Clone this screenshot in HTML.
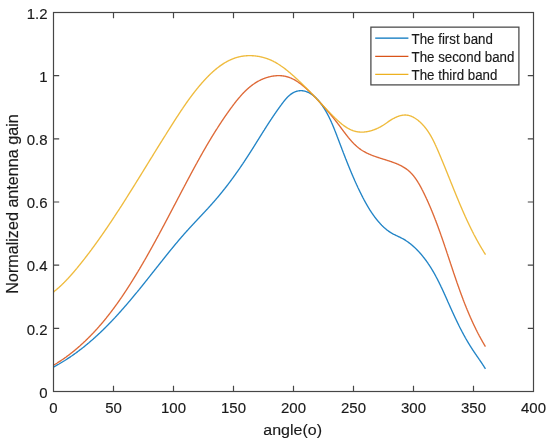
<!DOCTYPE html>
<html><head><meta charset="utf-8"><style>
html,body{margin:0;padding:0;background:#fff;overflow:hidden;}
svg{display:block;}
text{font-family:"Liberation Sans",Arial,Helvetica,sans-serif;fill:#1a1a1a;stroke:#1a1a1a;stroke-width:0.15;}
</style></head><body>
<svg width="550" height="443" viewBox="0 0 550 443">
<rect x="0" y="0" width="550" height="443" fill="#fff"/>
<g fill="none" stroke-width="1.35" stroke-opacity="0.87" stroke-linejoin="round" stroke-linecap="butt">
<path d="M53.52,367.06 L53.95,366.83 L54.38,366.60 L54.81,366.36 L55.23,366.13 L55.66,365.90 L56.08,365.66 L56.50,365.43 L56.93,365.19 L57.35,364.95 L57.77,364.71 L58.19,364.47 L58.61,364.23 L59.03,363.99 L59.44,363.74 L59.86,363.50 L60.28,363.25 L60.69,363.01 L61.10,362.76 L61.52,362.51 L61.93,362.26 L62.34,362.01 L62.75,361.76 L63.16,361.51 L63.57,361.26 L63.98,361.01 L64.39,360.75 L64.80,360.50 L65.20,360.24 L65.61,359.98 L66.01,359.72 L66.42,359.46 L66.82,359.20 L67.22,358.94 L67.62,358.68 L68.02,358.42 L68.42,358.15 L68.82,357.89 L69.22,357.62 L69.62,357.36 L70.02,357.09 L70.41,356.82 L70.81,356.55 L71.21,356.28 L71.60,356.01 L71.99,355.74 L72.39,355.47 L72.78,355.19 L73.17,354.92 L73.56,354.64 L73.95,354.37 L74.34,354.09 L74.73,353.81 L75.11,353.53 L75.50,353.25 L75.89,352.97 L76.27,352.69 L76.66,352.41 L77.04,352.13 L77.43,351.84 L77.81,351.56 L78.19,351.27 L78.57,350.99 L78.95,350.70 L79.33,350.41 L79.71,350.12 L80.09,349.83 L80.47,349.54 L80.85,349.25 L81.22,348.96 L81.60,348.67 L81.98,348.38 L82.35,348.08 L82.73,347.79 L83.10,347.49 L83.47,347.20 L83.84,346.90 L84.22,346.60 L84.59,346.30 L84.96,346.00 L85.33,345.70 L85.70,345.40 L86.06,345.10 L86.43,344.80 L86.80,344.49 L87.17,344.19 L87.53,343.89 L87.90,343.58 L88.26,343.27 L88.63,342.97 L88.99,342.66 L89.35,342.35 L89.71,342.04 L90.08,341.73 L90.44,341.42 L90.80,341.11 L91.16,340.80 L91.52,340.49 L91.88,340.18 L92.23,339.86 L92.59,339.55 L92.95,339.23 L93.31,338.92 L93.66,338.60 L94.02,338.28 L94.37,337.97 L94.73,337.65 L95.08,337.33 L95.43,337.01 L95.79,336.69 L96.14,336.37 L96.49,336.05 L96.84,335.73 L97.19,335.40 L97.54,335.08 L97.89,334.76 L98.24,334.43 L98.59,334.11 L98.93,333.78 L99.28,333.45 L99.63,333.13 L99.97,332.80 L100.32,332.47 L100.67,332.14 L101.01,331.81 L101.35,331.48 L101.70,331.15 L102.04,330.82 L102.38,330.49 L102.73,330.16 L103.07,329.82 L103.41,329.49 L103.75,329.16 L104.09,328.82 L104.43,328.49 L104.77,328.15 L105.11,327.82 L105.45,327.48 L105.78,327.14 L106.12,326.80 L106.46,326.47 L106.79,326.13 L107.13,325.79 L107.47,325.45 L107.80,325.11 L108.13,324.77 L108.47,324.42 L108.80,324.08 L109.14,323.74 L109.47,323.40 L109.80,323.05 L110.13,322.71 L110.46,322.37 L110.80,322.02 L111.13,321.68 L111.46,321.33 L111.79,320.98 L112.12,320.64 L112.44,320.29 L112.77,319.94 L113.10,319.59 L113.43,319.24 L113.76,318.90 L114.08,318.55 L114.41,318.20 L114.74,317.85 L115.06,317.49 L115.39,317.14 L115.71,316.79 L116.04,316.44 L116.36,316.09 L116.69,315.73 L117.01,315.38 L117.33,315.03 L117.65,314.67 L117.98,314.32 L118.30,313.96 L118.62,313.61 L118.94,313.25 L119.26,312.90 L119.58,312.54 L119.90,312.18 L120.22,311.82 L120.54,311.47 L120.86,311.11 L121.18,310.75 L121.50,310.39 L121.82,310.03 L122.14,309.67 L122.45,309.31 L122.77,308.95 L123.09,308.59 L123.40,308.23 L123.72,307.87 L124.04,307.51 L124.35,307.15 L124.67,306.78 L124.98,306.42 L125.30,306.06 L125.61,305.70 L125.93,305.33 L126.24,304.97 L126.55,304.60 L126.87,304.24 L127.18,303.87 L127.49,303.51 L127.80,303.14 L128.12,302.78 L128.43,302.41 L128.74,302.05 L129.05,301.68 L129.36,301.31 L129.67,300.95 L129.98,300.58 L130.29,300.21 L130.60,299.84 L130.91,299.48 L131.22,299.11 L131.53,298.74 L131.84,298.37 L132.15,298.00 L132.46,297.63 L132.77,297.26 L133.07,296.89 L133.38,296.52 L133.69,296.15 L134.00,295.78 L134.30,295.41 L134.61,295.04 L134.92,294.67 L135.22,294.30 L135.53,293.93 L135.84,293.55 L136.14,293.18 L136.45,292.81 L136.75,292.44 L137.06,292.07 L137.36,291.69 L137.67,291.32 L137.97,290.95 L138.28,290.57 L138.58,290.20 L138.89,289.83 L139.19,289.45 L139.49,289.08 L139.80,288.71 L140.10,288.33 L140.40,287.96 L140.71,287.58 L141.01,287.21 L141.31,286.83 L141.62,286.46 L141.92,286.08 L142.22,285.71 L142.52,285.33 L142.82,284.96 L143.13,284.58 L143.43,284.21 L143.73,283.83 L144.03,283.46 L144.33,283.08 L144.63,282.71 L144.94,282.33 L145.24,281.95 L145.54,281.58 L145.84,281.20 L146.14,280.82 L146.44,280.45 L146.74,280.07 L147.04,279.70 L147.34,279.32 L147.64,278.94 L147.94,278.57 L148.24,278.19 L148.54,277.81 L148.84,277.43 L149.14,277.06 L149.44,276.68 L149.74,276.30 L150.04,275.93 L150.34,275.55 L150.64,275.17 L150.94,274.80 L151.24,274.42 L151.53,274.04 L151.83,273.66 L152.13,273.29 L152.43,272.91 L152.73,272.53 L153.03,272.16 L153.33,271.78 L153.63,271.40 L153.93,271.03 L154.22,270.65 L154.52,270.27 L154.82,269.89 L155.12,269.52 L155.42,269.14 L155.72,268.76 L156.02,268.39 L156.31,268.01 L156.61,267.63 L156.91,267.26 L157.21,266.88 L157.51,266.50 L157.81,266.13 L158.10,265.75 L158.40,265.37 L158.70,265.00 L159.00,264.62 L159.30,264.25 L159.60,263.87 L159.90,263.49 L160.19,263.12 L160.49,262.74 L160.79,262.37 L161.09,261.99 L161.39,261.62 L161.69,261.24 L161.99,260.87 L162.28,260.49 L162.58,260.12 L162.88,259.74 L163.18,259.37 L163.48,258.99 L163.78,258.62 L164.08,258.24 L164.38,257.87 L164.68,257.49 L164.97,257.12 L165.27,256.75 L165.57,256.37 L165.87,256.00 L166.17,255.63 L166.47,255.25 L166.77,254.88 L167.07,254.51 L167.37,254.14 L167.67,253.76 L167.97,253.39 L168.27,253.02 L168.57,252.65 L168.87,252.28 L169.17,251.90 L169.47,251.53 L169.77,251.16 L170.07,250.79 L170.37,250.42 L170.67,250.05 L170.98,249.68 L171.28,249.31 L171.58,248.94 L171.88,248.57 L172.18,248.20 L172.48,247.83 L172.79,247.46 L173.09,247.10 L173.39,246.73 L173.69,246.36 L174.00,245.99 L174.30,245.62 L174.60,245.26 L174.91,244.89 L175.21,244.52 L175.51,244.16 L175.82,243.79 L176.12,243.43 L176.43,243.06 L176.73,242.70 L177.04,242.33 L177.35,241.97 L177.65,241.60 L177.96,241.24 L178.27,240.87 L178.57,240.51 L178.88,240.15 L179.19,239.78 L179.50,239.42 L179.81,239.06 L180.12,238.70 L180.43,238.34 L180.74,237.98 L181.05,237.62 L181.36,237.25 L181.67,236.89 L181.98,236.54 L182.30,236.18 L182.61,235.82 L182.92,235.46 L183.24,235.10 L183.55,234.74 L183.86,234.38 L184.18,234.03 L184.50,233.67 L184.81,233.31 L185.13,232.96 L185.45,232.60 L185.77,232.25 L186.08,231.89 L186.40,231.54 L186.72,231.18 L187.04,230.83 L187.36,230.48 L187.68,230.12 L188.00,229.77 L188.33,229.42 L188.65,229.06 L188.97,228.71 L189.29,228.36 L189.62,228.01 L189.94,227.66 L190.26,227.30 L190.59,226.95 L190.91,226.60 L191.23,226.25 L191.56,225.90 L191.88,225.55 L192.21,225.20 L192.53,224.85 L192.86,224.50 L193.19,224.15 L193.51,223.80 L193.84,223.45 L194.17,223.10 L194.49,222.75 L194.82,222.40 L195.15,222.05 L195.47,221.70 L195.80,221.35 L196.13,221.00 L196.46,220.65 L196.78,220.30 L197.11,219.95 L197.44,219.61 L197.77,219.26 L198.09,218.91 L198.42,218.56 L198.75,218.21 L199.08,217.86 L199.41,217.51 L199.73,217.16 L200.06,216.81 L200.39,216.46 L200.72,216.11 L201.05,215.76 L201.37,215.41 L201.70,215.06 L202.03,214.71 L202.36,214.36 L202.68,214.01 L203.01,213.66 L203.34,213.31 L203.67,212.96 L203.99,212.61 L204.32,212.26 L204.65,211.91 L204.97,211.55 L205.30,211.20 L205.62,210.85 L205.95,210.50 L206.28,210.14 L206.60,209.79 L206.93,209.44 L207.25,209.09 L207.57,208.73 L207.90,208.38 L208.22,208.02 L208.55,207.67 L208.87,207.31 L209.19,206.96 L209.51,206.60 L209.84,206.25 L210.16,205.89 L210.48,205.53 L210.80,205.18 L211.12,204.82 L211.44,204.46 L211.76,204.10 L212.08,203.75 L212.40,203.39 L212.72,203.03 L213.04,202.67 L213.35,202.31 L213.67,201.95 L213.99,201.58 L214.30,201.22 L214.62,200.86 L214.93,200.50 L215.25,200.13 L215.56,199.77 L215.88,199.41 L216.19,199.04 L216.50,198.68 L216.81,198.31 L217.12,197.94 L217.43,197.58 L217.74,197.21 L218.05,196.84 L218.36,196.47 L218.67,196.11 L218.98,195.74 L219.29,195.37 L219.59,195.00 L219.90,194.63 L220.20,194.26 L220.51,193.88 L220.81,193.51 L221.12,193.14 L221.42,192.77 L221.72,192.39 L222.03,192.02 L222.33,191.64 L222.63,191.27 L222.93,190.90 L223.23,190.52 L223.53,190.14 L223.83,189.77 L224.13,189.39 L224.43,189.01 L224.73,188.64 L225.02,188.26 L225.32,187.88 L225.62,187.50 L225.91,187.12 L226.21,186.74 L226.50,186.36 L226.80,185.98 L227.09,185.60 L227.38,185.22 L227.67,184.84 L227.97,184.46 L228.26,184.07 L228.55,183.69 L228.84,183.31 L229.13,182.92 L229.42,182.54 L229.71,182.16 L230.00,181.77 L230.29,181.39 L230.57,181.00 L230.86,180.62 L231.15,180.23 L231.43,179.84 L231.72,179.46 L232.00,179.07 L232.29,178.68 L232.57,178.30 L232.86,177.91 L233.14,177.52 L233.42,177.13 L233.71,176.74 L233.99,176.35 L234.27,175.96 L234.55,175.57 L234.83,175.18 L235.11,174.79 L235.39,174.40 L235.67,174.01 L235.95,173.62 L236.23,173.23 L236.50,172.84 L236.78,172.45 L237.06,172.05 L237.34,171.66 L237.61,171.27 L237.89,170.88 L238.16,170.48 L238.44,170.09 L238.71,169.70 L238.98,169.30 L239.26,168.91 L239.53,168.51 L239.80,168.12 L240.07,167.72 L240.35,167.33 L240.62,166.93 L240.89,166.54 L241.16,166.14 L241.43,165.75 L241.70,165.35 L241.97,164.95 L242.23,164.56 L242.50,164.16 L242.77,163.76 L243.04,163.37 L243.30,162.97 L243.57,162.57 L243.84,162.17 L244.10,161.77 L244.37,161.38 L244.63,160.98 L244.89,160.58 L245.16,160.18 L245.42,159.78 L245.68,159.38 L245.95,158.98 L246.21,158.59 L246.47,158.19 L246.73,157.79 L246.99,157.39 L247.25,156.99 L247.51,156.59 L247.77,156.19 L248.03,155.79 L248.29,155.39 L248.55,154.99 L248.81,154.58 L249.07,154.18 L249.32,153.78 L249.58,153.38 L249.84,152.98 L250.09,152.58 L250.35,152.18 L250.61,151.78 L250.86,151.38 L251.12,150.97 L251.37,150.57 L251.63,150.17 L251.88,149.77 L252.13,149.37 L252.39,148.97 L252.64,148.56 L252.89,148.16 L253.15,147.76 L253.40,147.36 L253.65,146.95 L253.91,146.55 L254.16,146.15 L254.41,145.75 L254.66,145.34 L254.91,144.94 L255.17,144.54 L255.42,144.14 L255.67,143.73 L255.92,143.33 L256.17,142.93 L256.42,142.52 L256.67,142.12 L256.93,141.72 L257.18,141.32 L257.43,140.91 L257.68,140.51 L257.93,140.11 L258.18,139.70 L258.43,139.30 L258.68,138.90 L258.94,138.49 L259.19,138.09 L259.44,137.69 L259.69,137.28 L259.94,136.88 L260.19,136.48 L260.44,136.07 L260.70,135.67 L260.95,135.27 L261.20,134.86 L261.45,134.46 L261.70,134.06 L261.96,133.65 L262.21,133.25 L262.46,132.85 L262.72,132.44 L262.97,132.04 L263.22,131.64 L263.48,131.23 L263.73,130.83 L263.98,130.43 L264.24,130.03 L264.49,129.62 L264.75,129.22 L265.00,128.82 L265.26,128.41 L265.52,128.01 L265.77,127.61 L266.03,127.21 L266.29,126.80 L266.54,126.40 L266.80,126.00 L267.06,125.59 L267.32,125.19 L267.58,124.79 L267.84,124.39 L268.10,123.99 L268.36,123.58 L268.62,123.18 L268.88,122.78 L269.14,122.38 L269.40,121.98 L269.66,121.57 L269.93,121.17 L270.19,120.77 L270.45,120.37 L270.72,119.97 L270.98,119.57 L271.25,119.17 L271.51,118.76 L271.78,118.36 L272.05,117.96 L272.32,117.56 L272.59,117.16 L272.85,116.76 L273.12,116.36 L273.39,115.96 L273.67,115.56 L273.94,115.16 L274.21,114.76 L274.48,114.36 L274.76,113.96 L275.03,113.56 L275.31,113.16 L275.58,112.76 L275.86,112.36 L276.14,111.96 L276.41,111.57 L276.69,111.17 L276.97,110.77 L277.25,110.37 L277.53,109.97 L277.82,109.57 L278.10,109.18 L278.38,108.78 L278.67,108.38 L278.95,107.98 L279.24,107.59 L279.53,107.19 L279.81,106.79 L280.10,106.40 L280.39,106.00 L280.68,105.60 L280.98,105.21 L281.27,104.81 L281.56,104.42 L281.86,104.02 L282.15,103.62 L282.45,103.23 L282.75,102.84 L283.05,102.44 L283.35,102.05 L283.65,101.66 L283.95,101.27 L284.26,100.89 L284.57,100.51 L284.88,100.13 L285.19,99.75 L285.51,99.38 L285.82,99.01 L286.14,98.64 L286.47,98.28 L286.79,97.92 L287.12,97.57 L287.46,97.23 L287.79,96.89 L288.13,96.55 L288.48,96.22 L288.82,95.90 L289.17,95.58 L289.53,95.28 L289.89,94.98 L290.25,94.68 L290.62,94.40 L290.99,94.12 L291.37,93.85 L291.76,93.59 L292.14,93.34 L292.54,93.10 L292.93,92.87 L293.34,92.65 L293.75,92.44 L294.16,92.24 L294.58,92.05 L295.00,91.87 L295.43,91.70 L295.86,91.55 L296.30,91.40 L296.73,91.27 L297.17,91.15 L297.62,91.05 L298.06,90.95 L298.51,90.87 L298.96,90.81 L299.41,90.75 L299.87,90.71 L300.32,90.69 L300.78,90.68 L301.23,90.68 L301.69,90.70 L302.15,90.73 L302.60,90.78 L303.06,90.84 L303.52,90.91 L303.97,91.00 L304.43,91.10 L304.88,91.21 L305.33,91.33 L305.78,91.47 L306.23,91.61 L306.67,91.77 L307.12,91.94 L307.56,92.12 L308.00,92.31 L308.43,92.51 L308.86,92.72 L309.29,92.94 L309.72,93.16 L310.14,93.40 L310.56,93.64 L310.97,93.90 L311.38,94.16 L311.78,94.43 L312.18,94.70 L312.57,94.99 L312.96,95.27 L313.34,95.57 L313.72,95.87 L314.09,96.18 L314.46,96.50 L314.83,96.82 L315.19,97.14 L315.54,97.47 L315.89,97.81 L316.24,98.15 L316.58,98.50 L316.92,98.85 L317.25,99.20 L317.58,99.56 L317.91,99.93 L318.23,100.29 L318.55,100.66 L318.86,101.04 L319.17,101.42 L319.48,101.80 L319.79,102.18 L320.09,102.57 L320.38,102.95 L320.68,103.34 L320.97,103.74 L321.26,104.13 L321.54,104.52 L321.82,104.92 L322.10,105.32 L322.38,105.72 L322.65,106.12 L322.92,106.52 L323.19,106.92 L323.46,107.33 L323.72,107.73 L323.98,108.14 L324.24,108.55 L324.49,108.95 L324.74,109.36 L324.99,109.77 L325.24,110.19 L325.49,110.60 L325.73,111.01 L325.97,111.43 L326.21,111.84 L326.45,112.26 L326.68,112.67 L326.91,113.09 L327.14,113.51 L327.37,113.93 L327.60,114.35 L327.82,114.77 L328.04,115.20 L328.26,115.62 L328.48,116.04 L328.70,116.47 L328.91,116.89 L329.12,117.32 L329.33,117.75 L329.54,118.18 L329.75,118.61 L329.95,119.04 L330.16,119.47 L330.36,119.90 L330.56,120.33 L330.76,120.76 L330.96,121.19 L331.16,121.63 L331.35,122.06 L331.54,122.50 L331.74,122.93 L331.93,123.37 L332.12,123.80 L332.31,124.24 L332.49,124.68 L332.68,125.12 L332.87,125.55 L333.05,125.99 L333.23,126.43 L333.42,126.87 L333.60,127.31 L333.78,127.75 L333.96,128.20 L334.14,128.64 L334.31,129.08 L334.49,129.52 L334.67,129.96 L334.84,130.41 L335.02,130.85 L335.19,131.30 L335.36,131.74 L335.54,132.18 L335.71,132.63 L335.88,133.07 L336.05,133.52 L336.22,133.96 L336.40,134.41 L336.57,134.85 L336.74,135.30 L336.91,135.75 L337.08,136.19 L337.25,136.64 L337.41,137.09 L337.58,137.53 L337.75,137.98 L337.92,138.42 L338.09,138.87 L338.26,139.32 L338.43,139.77 L338.60,140.21 L338.77,140.66 L338.94,141.11 L339.11,141.55 L339.27,142.00 L339.44,142.45 L339.61,142.89 L339.78,143.34 L339.95,143.79 L340.12,144.23 L340.29,144.68 L340.46,145.13 L340.63,145.58 L340.80,146.02 L340.97,146.47 L341.14,146.92 L341.31,147.36 L341.48,147.81 L341.65,148.26 L341.82,148.71 L341.99,149.15 L342.16,149.60 L342.33,150.05 L342.51,150.49 L342.68,150.94 L342.85,151.39 L343.02,151.83 L343.19,152.28 L343.36,152.73 L343.54,153.17 L343.71,153.62 L343.88,154.07 L344.05,154.51 L344.23,154.96 L344.40,155.41 L344.57,155.85 L344.75,156.30 L344.92,156.75 L345.09,157.19 L345.27,157.64 L345.44,158.08 L345.62,158.53 L345.79,158.98 L345.97,159.42 L346.14,159.87 L346.32,160.31 L346.50,160.76 L346.67,161.20 L346.85,161.65 L347.03,162.10 L347.20,162.54 L347.38,162.99 L347.56,163.43 L347.74,163.87 L347.92,164.32 L348.09,164.76 L348.27,165.21 L348.45,165.65 L348.63,166.10 L348.81,166.54 L348.99,166.98 L349.18,167.43 L349.36,167.87 L349.54,168.31 L349.72,168.76 L349.90,169.20 L350.09,169.64 L350.27,170.09 L350.45,170.53 L350.64,170.97 L350.82,171.41 L351.01,171.86 L351.19,172.30 L351.38,172.74 L351.56,173.18 L351.75,173.62 L351.94,174.06 L352.12,174.50 L352.31,174.95 L352.50,175.39 L352.69,175.83 L352.88,176.27 L353.07,176.71 L353.26,177.15 L353.45,177.59 L353.64,178.03 L353.83,178.46 L354.03,178.90 L354.22,179.34 L354.41,179.78 L354.61,180.22 L354.80,180.66 L355.00,181.09 L355.19,181.53 L355.39,181.97 L355.58,182.41 L355.78,182.84 L355.98,183.28 L356.18,183.72 L356.38,184.15 L356.57,184.59 L356.77,185.02 L356.98,185.46 L357.18,185.89 L357.38,186.33 L357.58,186.76 L357.78,187.20 L357.99,187.63 L358.19,188.07 L358.40,188.50 L358.60,188.93 L358.81,189.36 L359.02,189.80 L359.22,190.23 L359.43,190.66 L359.64,191.09 L359.85,191.52 L360.06,191.95 L360.27,192.39 L360.48,192.82 L360.69,193.25 L360.91,193.68 L361.12,194.10 L361.33,194.53 L361.55,194.96 L361.76,195.39 L361.98,195.82 L362.20,196.25 L362.42,196.67 L362.64,197.10 L362.85,197.53 L363.08,197.95 L363.30,198.38 L363.52,198.80 L363.74,199.23 L363.97,199.65 L364.19,200.07 L364.42,200.50 L364.65,200.92 L364.87,201.34 L365.10,201.76 L365.33,202.18 L365.56,202.60 L365.80,203.02 L366.03,203.44 L366.27,203.86 L366.50,204.27 L366.74,204.69 L366.98,205.10 L367.22,205.52 L367.46,205.93 L367.70,206.35 L367.94,206.76 L368.19,207.17 L368.44,207.58 L368.68,207.99 L368.93,208.40 L369.18,208.80 L369.44,209.21 L369.69,209.62 L369.95,210.02 L370.20,210.42 L370.46,210.83 L370.72,211.23 L370.98,211.63 L371.24,212.03 L371.51,212.43 L371.78,212.82 L372.04,213.22 L372.31,213.61 L372.58,214.01 L372.86,214.40 L373.13,214.79 L373.41,215.18 L373.69,215.57 L373.97,215.96 L374.25,216.34 L374.53,216.73 L374.82,217.11 L375.11,217.49 L375.40,217.87 L375.69,218.25 L375.98,218.63 L376.28,219.01 L376.58,219.38 L376.88,219.75 L377.18,220.13 L377.48,220.50 L377.79,220.87 L378.10,221.23 L378.41,221.60 L378.72,221.96 L379.04,222.32 L379.35,222.68 L379.67,223.04 L380.00,223.40 L380.32,223.75 L380.65,224.10 L380.98,224.45 L381.31,224.80 L381.64,225.15 L381.98,225.49 L382.31,225.83 L382.66,226.16 L383.00,226.50 L383.35,226.83 L383.69,227.15 L384.05,227.48 L384.40,227.80 L384.76,228.11 L385.12,228.43 L385.48,228.74 L385.84,229.04 L386.21,229.35 L386.58,229.65 L386.95,229.94 L387.33,230.23 L387.71,230.52 L388.09,230.80 L388.48,231.08 L388.86,231.35 L389.25,231.62 L389.65,231.89 L390.04,232.15 L390.44,232.40 L390.85,232.65 L391.25,232.90 L391.66,233.14 L392.07,233.38 L392.49,233.61 L392.90,233.83 L393.32,234.06 L393.75,234.28 L394.17,234.49 L394.60,234.71 L395.02,234.92 L395.45,235.13 L395.88,235.34 L396.31,235.54 L396.74,235.75 L397.17,235.95 L397.60,236.16 L398.04,236.36 L398.47,236.57 L398.90,236.78 L399.33,236.98 L399.76,237.19 L400.19,237.40 L400.62,237.62 L401.05,237.83 L401.47,238.05 L401.90,238.27 L402.32,238.50 L402.74,238.72 L403.16,238.96 L403.58,239.19 L403.99,239.43 L404.40,239.68 L404.81,239.93 L405.22,240.18 L405.62,240.44 L406.02,240.70 L406.42,240.96 L406.82,241.23 L407.22,241.50 L407.61,241.77 L408.01,242.05 L408.40,242.33 L408.78,242.61 L409.17,242.90 L409.55,243.19 L409.93,243.48 L410.31,243.78 L410.69,244.08 L411.06,244.38 L411.43,244.68 L411.80,244.99 L412.17,245.30 L412.54,245.62 L412.90,245.93 L413.26,246.25 L413.62,246.57 L413.98,246.89 L414.34,247.22 L414.69,247.55 L415.04,247.88 L415.39,248.21 L415.74,248.55 L416.08,248.88 L416.42,249.22 L416.76,249.56 L417.10,249.91 L417.44,250.25 L417.77,250.60 L418.10,250.95 L418.43,251.30 L418.76,251.65 L419.09,252.00 L419.41,252.36 L419.73,252.71 L420.05,253.07 L420.37,253.43 L420.68,253.79 L421.00,254.15 L421.31,254.52 L421.62,254.88 L421.93,255.25 L422.23,255.62 L422.53,255.98 L422.84,256.35 L423.13,256.73 L423.43,257.10 L423.73,257.47 L424.02,257.85 L424.31,258.23 L424.60,258.60 L424.89,258.98 L425.18,259.36 L425.46,259.74 L425.75,260.13 L426.03,260.51 L426.31,260.90 L426.58,261.28 L426.86,261.67 L427.14,262.06 L427.41,262.45 L427.68,262.84 L427.95,263.23 L428.22,263.62 L428.48,264.02 L428.75,264.41 L429.01,264.81 L429.27,265.21 L429.53,265.60 L429.79,266.00 L430.05,266.40 L430.30,266.80 L430.56,267.21 L430.81,267.61 L431.06,268.01 L431.31,268.42 L431.56,268.82 L431.81,269.23 L432.05,269.64 L432.30,270.05 L432.54,270.46 L432.78,270.87 L433.03,271.28 L433.27,271.69 L433.50,272.10 L433.74,272.52 L433.98,272.93 L434.21,273.35 L434.44,273.76 L434.68,274.18 L434.91,274.60 L435.14,275.01 L435.37,275.43 L435.60,275.85 L435.82,276.27 L436.05,276.69 L436.27,277.12 L436.50,277.54 L436.72,277.96 L436.94,278.38 L437.16,278.81 L437.38,279.23 L437.60,279.66 L437.82,280.08 L438.04,280.51 L438.25,280.94 L438.47,281.37 L438.68,281.79 L438.90,282.22 L439.11,282.65 L439.32,283.08 L439.53,283.51 L439.74,283.94 L439.95,284.37 L440.16,284.81 L440.37,285.24 L440.58,285.67 L440.79,286.10 L440.99,286.54 L441.20,286.97 L441.40,287.40 L441.61,287.84 L441.81,288.27 L442.02,288.71 L442.22,289.14 L442.42,289.58 L442.62,290.01 L442.83,290.45 L443.03,290.89 L443.23,291.32 L443.43,291.76 L443.63,292.20 L443.83,292.63 L444.03,293.07 L444.23,293.51 L444.42,293.95 L444.62,294.39 L444.82,294.82 L445.02,295.26 L445.21,295.70 L445.41,296.14 L445.61,296.58 L445.80,297.02 L446.00,297.46 L446.20,297.89 L446.39,298.33 L446.59,298.77 L446.78,299.21 L446.98,299.65 L447.17,300.09 L447.37,300.53 L447.56,300.97 L447.76,301.41 L447.95,301.85 L448.15,302.28 L448.34,302.72 L448.54,303.16 L448.73,303.60 L448.93,304.04 L449.12,304.48 L449.32,304.92 L449.51,305.35 L449.71,305.79 L449.90,306.23 L450.10,306.67 L450.30,307.11 L450.49,307.54 L450.69,307.98 L450.89,308.42 L451.08,308.85 L451.28,309.29 L451.48,309.73 L451.67,310.16 L451.87,310.60 L452.07,311.03 L452.27,311.47 L452.46,311.90 L452.66,312.34 L452.86,312.77 L453.06,313.21 L453.26,313.64 L453.46,314.08 L453.66,314.51 L453.86,314.95 L454.06,315.38 L454.26,315.81 L454.47,316.24 L454.67,316.68 L454.87,317.11 L455.07,317.54 L455.28,317.97 L455.48,318.41 L455.68,318.84 L455.89,319.27 L456.09,319.70 L456.30,320.13 L456.50,320.56 L456.71,320.99 L456.92,321.42 L457.12,321.85 L457.33,322.28 L457.54,322.71 L457.75,323.13 L457.96,323.56 L458.17,323.99 L458.38,324.42 L458.59,324.84 L458.80,325.27 L459.01,325.70 L459.23,326.12 L459.44,326.55 L459.65,326.98 L459.87,327.40 L460.08,327.83 L460.30,328.25 L460.52,328.67 L460.73,329.10 L460.95,329.52 L461.17,329.95 L461.39,330.37 L461.61,330.79 L461.83,331.21 L462.05,331.63 L462.27,332.06 L462.50,332.48 L462.72,332.90 L462.95,333.32 L463.17,333.74 L463.40,334.16 L463.62,334.58 L463.85,334.99 L464.08,335.41 L464.31,335.83 L464.54,336.25 L464.77,336.66 L465.00,337.08 L465.23,337.50 L465.47,337.91 L465.70,338.33 L465.94,338.74 L466.17,339.16 L466.41,339.57 L466.65,339.99 L466.89,340.40 L467.13,340.81 L467.37,341.22 L467.61,341.64 L467.85,342.05 L468.10,342.46 L468.34,342.87 L468.59,343.28 L468.83,343.69 L469.08,344.10 L469.33,344.51 L469.58,344.91 L469.83,345.32 L470.08,345.73 L470.34,346.14 L470.59,346.54 L470.85,346.95 L471.10,347.35 L471.36,347.76 L471.62,348.16 L471.88,348.57 L472.14,348.97 L472.40,349.37 L472.66,349.77 L472.93,350.18 L473.19,350.58 L473.46,350.98 L473.73,351.38 L474.00,351.78 L474.27,352.18 L474.54,352.58 L474.81,352.98 L475.08,353.37 L475.35,353.77 L475.62,354.17 L475.90,354.57 L476.17,354.97 L476.44,355.36 L476.72,355.76 L476.99,356.16 L477.27,356.55 L477.54,356.95 L477.82,357.35 L478.09,357.74 L478.36,358.14 L478.64,358.53 L478.91,358.93 L479.18,359.33 L479.46,359.72 L479.73,360.12 L480.00,360.52 L480.27,360.91 L480.54,361.31 L480.81,361.71 L481.08,362.11 L481.35,362.50 L481.62,362.90 L481.88,363.30 L482.15,363.70 L482.41,364.10 L482.67,364.50 L482.93,364.90 L483.19,365.30 L483.45,365.70 L483.70,366.10 L483.96,366.50 L484.21,366.90 L484.46,367.30 L484.71,367.71 L484.96,368.11 L485.20,368.51 L485.45,368.92" stroke="#0072BD"/>
<path d="M53.50,365.20 L53.92,364.95 L54.34,364.71 L54.76,364.46 L55.18,364.22 L55.60,363.97 L56.01,363.72 L56.43,363.46 L56.85,363.21 L57.26,362.95 L57.67,362.70 L58.09,362.44 L58.50,362.18 L58.91,361.92 L59.32,361.65 L59.73,361.39 L60.14,361.12 L60.55,360.85 L60.96,360.58 L61.37,360.31 L61.77,360.04 L62.18,359.76 L62.58,359.49 L62.99,359.21 L63.39,358.93 L63.79,358.65 L64.20,358.37 L64.60,358.08 L65.00,357.80 L65.40,357.51 L65.80,357.23 L66.19,356.94 L66.59,356.65 L66.99,356.36 L67.38,356.07 L67.78,355.77 L68.17,355.48 L68.56,355.18 L68.96,354.89 L69.35,354.59 L69.74,354.29 L70.13,353.99 L70.52,353.69 L70.91,353.38 L71.29,353.08 L71.68,352.78 L72.07,352.47 L72.45,352.16 L72.83,351.86 L73.22,351.55 L73.60,351.24 L73.98,350.93 L74.36,350.61 L74.74,350.30 L75.12,349.99 L75.50,349.67 L75.87,349.36 L76.25,349.04 L76.62,348.73 L77.00,348.41 L77.37,348.09 L77.74,347.77 L78.11,347.45 L78.48,347.13 L78.85,346.80 L79.22,346.48 L79.59,346.16 L79.95,345.83 L80.32,345.51 L80.68,345.18 L81.05,344.85 L81.41,344.52 L81.77,344.20 L82.14,343.87 L82.50,343.54 L82.86,343.20 L83.21,342.87 L83.57,342.54 L83.93,342.20 L84.29,341.87 L84.64,341.53 L85.00,341.20 L85.35,340.86 L85.70,340.52 L86.05,340.19 L86.41,339.85 L86.76,339.51 L87.11,339.16 L87.45,338.82 L87.80,338.48 L88.15,338.14 L88.50,337.79 L88.84,337.45 L89.19,337.10 L89.53,336.76 L89.87,336.41 L90.22,336.06 L90.56,335.71 L90.90,335.37 L91.24,335.02 L91.58,334.66 L91.92,334.31 L92.25,333.96 L92.59,333.61 L92.93,333.26 L93.26,332.90 L93.60,332.55 L93.93,332.19 L94.26,331.83 L94.60,331.48 L94.93,331.12 L95.26,330.76 L95.59,330.40 L95.92,330.04 L96.25,329.68 L96.57,329.32 L96.90,328.96 L97.23,328.60 L97.55,328.23 L97.88,327.87 L98.20,327.51 L98.52,327.14 L98.85,326.78 L99.17,326.41 L99.49,326.04 L99.81,325.67 L100.13,325.31 L100.45,324.94 L100.77,324.57 L101.09,324.20 L101.40,323.83 L101.72,323.46 L102.04,323.08 L102.35,322.71 L102.66,322.34 L102.98,321.97 L103.29,321.59 L103.60,321.22 L103.92,320.84 L104.23,320.46 L104.54,320.09 L104.85,319.71 L105.15,319.33 L105.46,318.95 L105.77,318.57 L106.08,318.20 L106.38,317.82 L106.69,317.43 L107.00,317.05 L107.30,316.67 L107.60,316.29 L107.91,315.91 L108.21,315.52 L108.51,315.14 L108.81,314.75 L109.11,314.37 L109.41,313.98 L109.71,313.60 L110.01,313.21 L110.31,312.82 L110.61,312.44 L110.91,312.05 L111.20,311.66 L111.50,311.27 L111.79,310.88 L112.09,310.49 L112.38,310.10 L112.68,309.71 L112.97,309.32 L113.26,308.92 L113.55,308.53 L113.84,308.14 L114.13,307.75 L114.42,307.35 L114.71,306.96 L115.00,306.56 L115.29,306.17 L115.58,305.77 L115.87,305.37 L116.15,304.98 L116.44,304.58 L116.73,304.18 L117.01,303.78 L117.30,303.39 L117.58,302.99 L117.86,302.59 L118.15,302.19 L118.43,301.79 L118.71,301.39 L118.99,300.99 L119.27,300.59 L119.56,300.18 L119.84,299.78 L120.11,299.38 L120.39,298.98 L120.67,298.57 L120.95,298.17 L121.23,297.76 L121.51,297.36 L121.78,296.95 L122.06,296.55 L122.33,296.14 L122.61,295.74 L122.88,295.33 L123.16,294.92 L123.43,294.52 L123.70,294.11 L123.98,293.70 L124.25,293.29 L124.52,292.88 L124.79,292.48 L125.06,292.07 L125.34,291.66 L125.61,291.25 L125.88,290.84 L126.14,290.43 L126.41,290.02 L126.68,289.60 L126.95,289.19 L127.22,288.78 L127.48,288.37 L127.75,287.96 L128.02,287.54 L128.28,287.13 L128.55,286.72 L128.81,286.30 L129.08,285.89 L129.34,285.48 L129.61,285.06 L129.87,284.65 L130.13,284.23 L130.40,283.82 L130.66,283.40 L130.92,282.99 L131.18,282.57 L131.44,282.15 L131.71,281.74 L131.97,281.32 L132.23,280.90 L132.49,280.49 L132.75,280.07 L133.00,279.65 L133.26,279.23 L133.52,278.82 L133.78,278.40 L134.04,277.98 L134.30,277.56 L134.55,277.14 L134.81,276.72 L135.07,276.30 L135.32,275.88 L135.58,275.46 L135.83,275.04 L136.09,274.62 L136.34,274.20 L136.60,273.78 L136.85,273.36 L137.11,272.94 L137.36,272.52 L137.61,272.10 L137.86,271.68 L138.12,271.26 L138.37,270.83 L138.62,270.41 L138.87,269.99 L139.12,269.57 L139.38,269.15 L139.63,268.72 L139.88,268.30 L140.13,267.88 L140.38,267.45 L140.63,267.03 L140.88,266.61 L141.13,266.18 L141.37,265.76 L141.62,265.34 L141.87,264.91 L142.12,264.49 L142.37,264.06 L142.62,263.64 L142.86,263.21 L143.11,262.79 L143.36,262.36 L143.60,261.94 L143.85,261.51 L144.09,261.09 L144.34,260.66 L144.59,260.24 L144.83,259.81 L145.08,259.39 L145.32,258.96 L145.56,258.53 L145.81,258.11 L146.05,257.68 L146.30,257.25 L146.54,256.83 L146.78,256.40 L147.03,255.97 L147.27,255.55 L147.51,255.12 L147.75,254.69 L147.99,254.26 L148.24,253.83 L148.48,253.41 L148.72,252.98 L148.96,252.55 L149.20,252.12 L149.44,251.69 L149.68,251.27 L149.92,250.84 L150.16,250.41 L150.40,249.98 L150.64,249.55 L150.88,249.12 L151.12,248.69 L151.36,248.26 L151.60,247.83 L151.84,247.40 L152.08,246.97 L152.31,246.54 L152.55,246.12 L152.79,245.69 L153.03,245.26 L153.26,244.83 L153.50,244.39 L153.74,243.96 L153.97,243.53 L154.21,243.10 L154.45,242.67 L154.68,242.24 L154.92,241.81 L155.16,241.38 L155.39,240.95 L155.63,240.52 L155.86,240.09 L156.10,239.66 L156.33,239.23 L156.57,238.79 L156.80,238.36 L157.04,237.93 L157.27,237.50 L157.51,237.07 L157.74,236.64 L157.97,236.20 L158.21,235.77 L158.44,235.34 L158.67,234.91 L158.91,234.48 L159.14,234.04 L159.37,233.61 L159.61,233.18 L159.84,232.75 L160.07,232.31 L160.30,231.88 L160.54,231.45 L160.77,231.02 L161.00,230.58 L161.23,230.15 L161.46,229.72 L161.70,229.28 L161.93,228.85 L162.16,228.42 L162.39,227.99 L162.62,227.55 L162.85,227.12 L163.08,226.69 L163.31,226.25 L163.55,225.82 L163.78,225.39 L164.01,224.95 L164.24,224.52 L164.47,224.09 L164.70,223.65 L164.93,223.22 L165.16,222.79 L165.39,222.35 L165.62,221.92 L165.85,221.48 L166.08,221.05 L166.31,220.62 L166.54,220.18 L166.76,219.75 L166.99,219.32 L167.22,218.88 L167.45,218.45 L167.68,218.01 L167.91,217.58 L168.14,217.15 L168.37,216.71 L168.60,216.28 L168.83,215.84 L169.05,215.41 L169.28,214.98 L169.51,214.54 L169.74,214.11 L169.97,213.67 L170.20,213.24 L170.42,212.81 L170.65,212.37 L170.88,211.94 L171.11,211.50 L171.34,211.07 L171.56,210.64 L171.79,210.20 L172.02,209.77 L172.25,209.33 L172.47,208.90 L172.70,208.47 L172.93,208.03 L173.16,207.60 L173.39,207.16 L173.61,206.73 L173.84,206.30 L174.07,205.86 L174.30,205.43 L174.52,204.99 L174.75,204.56 L174.98,204.13 L175.21,203.69 L175.43,203.26 L175.66,202.82 L175.89,202.39 L176.11,201.96 L176.34,201.52 L176.57,201.09 L176.80,200.66 L177.02,200.22 L177.25,199.79 L177.48,199.35 L177.71,198.92 L177.93,198.49 L178.16,198.05 L178.39,197.62 L178.61,197.19 L178.84,196.75 L179.07,196.32 L179.30,195.89 L179.52,195.45 L179.75,195.02 L179.98,194.59 L180.21,194.15 L180.43,193.72 L180.66,193.29 L180.89,192.85 L181.12,192.42 L181.34,191.99 L181.57,191.55 L181.80,191.12 L182.03,190.69 L182.25,190.26 L182.48,189.82 L182.71,189.39 L182.94,188.96 L183.16,188.53 L183.39,188.09 L183.62,187.66 L183.85,187.23 L184.08,186.80 L184.30,186.36 L184.53,185.93 L184.76,185.50 L184.99,185.07 L185.22,184.64 L185.44,184.20 L185.67,183.77 L185.90,183.34 L186.13,182.91 L186.36,182.48 L186.59,182.05 L186.82,181.61 L187.04,181.18 L187.27,180.75 L187.50,180.32 L187.73,179.89 L187.96,179.46 L188.19,179.03 L188.42,178.60 L188.65,178.17 L188.88,177.74 L189.11,177.31 L189.34,176.88 L189.57,176.45 L189.80,176.02 L190.03,175.59 L190.26,175.16 L190.49,174.73 L190.72,174.30 L190.95,173.87 L191.18,173.44 L191.41,173.01 L191.64,172.58 L191.87,172.15 L192.10,171.72 L192.33,171.29 L192.56,170.86 L192.79,170.43 L193.02,170.00 L193.26,169.57 L193.49,169.15 L193.72,168.72 L193.95,168.29 L194.18,167.86 L194.42,167.43 L194.65,167.01 L194.88,166.58 L195.11,166.15 L195.35,165.72 L195.58,165.30 L195.81,164.87 L196.05,164.44 L196.28,164.01 L196.52,163.59 L196.75,163.16 L196.98,162.73 L197.22,162.31 L197.45,161.88 L197.69,161.45 L197.92,161.03 L198.16,160.60 L198.40,160.18 L198.63,159.75 L198.87,159.32 L199.10,158.90 L199.34,158.47 L199.58,158.05 L199.81,157.62 L200.05,157.20 L200.29,156.77 L200.53,156.35 L200.77,155.92 L201.00,155.50 L201.24,155.07 L201.48,154.65 L201.72,154.23 L201.96,153.80 L202.20,153.38 L202.44,152.96 L202.68,152.53 L202.92,152.11 L203.16,151.68 L203.40,151.26 L203.65,150.84 L203.89,150.42 L204.13,149.99 L204.37,149.57 L204.62,149.15 L204.86,148.73 L205.10,148.30 L205.35,147.88 L205.59,147.46 L205.84,147.04 L206.08,146.62 L206.33,146.20 L206.57,145.78 L206.82,145.35 L207.06,144.93 L207.31,144.51 L207.56,144.09 L207.81,143.67 L208.05,143.25 L208.30,142.83 L208.55,142.41 L208.80,141.99 L209.05,141.57 L209.30,141.15 L209.55,140.73 L209.80,140.32 L210.05,139.90 L210.30,139.48 L210.55,139.06 L210.81,138.64 L211.06,138.22 L211.31,137.81 L211.57,137.39 L211.82,136.97 L212.08,136.55 L212.33,136.13 L212.59,135.72 L212.84,135.30 L213.10,134.88 L213.35,134.47 L213.61,134.05 L213.87,133.63 L214.13,133.22 L214.39,132.80 L214.65,132.39 L214.90,131.97 L215.16,131.56 L215.43,131.14 L215.69,130.73 L215.95,130.31 L216.21,129.90 L216.47,129.48 L216.74,129.07 L217.00,128.65 L217.26,128.24 L217.53,127.83 L217.79,127.41 L218.06,127.00 L218.32,126.59 L218.59,126.17 L218.86,125.76 L219.13,125.35 L219.39,124.94 L219.66,124.52 L219.93,124.11 L220.20,123.70 L220.47,123.29 L220.74,122.88 L221.02,122.47 L221.29,122.05 L221.56,121.64 L221.83,121.23 L222.11,120.82 L222.38,120.41 L222.66,120.00 L222.93,119.59 L223.21,119.18 L223.49,118.77 L223.77,118.36 L224.04,117.96 L224.32,117.55 L224.60,117.14 L224.88,116.73 L225.16,116.32 L225.44,115.91 L225.73,115.51 L226.01,115.10 L226.29,114.69 L226.58,114.28 L226.86,113.88 L227.14,113.47 L227.43,113.06 L227.72,112.66 L228.00,112.25 L228.29,111.85 L228.58,111.44 L228.87,111.04 L229.16,110.63 L229.45,110.23 L229.74,109.82 L230.03,109.42 L230.33,109.01 L230.62,108.61 L230.91,108.21 L231.21,107.80 L231.50,107.40 L231.80,107.00 L232.10,106.60 L232.39,106.19 L232.69,105.79 L232.99,105.39 L233.29,104.99 L233.59,104.59 L233.90,104.20 L234.20,103.80 L234.50,103.40 L234.81,103.01 L235.12,102.61 L235.42,102.22 L235.73,101.83 L236.04,101.43 L236.35,101.04 L236.66,100.65 L236.98,100.27 L237.29,99.88 L237.61,99.49 L237.92,99.11 L238.24,98.73 L238.56,98.35 L238.88,97.97 L239.20,97.59 L239.52,97.21 L239.85,96.84 L240.17,96.46 L240.50,96.09 L240.83,95.72 L241.16,95.35 L241.49,94.99 L241.82,94.62 L242.16,94.26 L242.49,93.90 L242.83,93.54 L243.17,93.19 L243.51,92.83 L243.85,92.48 L244.20,92.13 L244.54,91.78 L244.89,91.44 L245.24,91.10 L245.59,90.76 L245.94,90.42 L246.30,90.08 L246.65,89.75 L247.01,89.42 L247.37,89.09 L247.73,88.77 L248.09,88.45 L248.46,88.13 L248.82,87.81 L249.19,87.50 L249.56,87.19 L249.94,86.88 L250.31,86.58 L250.69,86.28 L251.07,85.98 L251.45,85.68 L251.83,85.39 L252.22,85.10 L252.60,84.82 L252.99,84.54 L253.38,84.26 L253.78,83.98 L254.17,83.71 L254.57,83.44 L254.97,83.18 L255.37,82.92 L255.78,82.66 L256.19,82.41 L256.60,82.16 L257.01,81.91 L257.42,81.67 L257.84,81.43 L258.26,81.20 L258.68,80.97 L259.10,80.74 L259.53,80.52 L259.96,80.30 L260.39,80.09 L260.82,79.88 L261.26,79.68 L261.70,79.48 L262.14,79.28 L262.59,79.09 L263.03,78.90 L263.48,78.72 L263.94,78.54 L264.39,78.37 L264.85,78.20 L265.31,78.03 L265.77,77.87 L266.24,77.72 L266.71,77.57 L267.17,77.42 L267.65,77.28 L268.12,77.15 L268.59,77.02 L269.07,76.90 L269.55,76.78 L270.03,76.67 L270.51,76.56 L270.99,76.46 L271.48,76.36 L271.96,76.27 L272.45,76.19 L272.93,76.11 L273.42,76.04 L273.91,75.97 L274.40,75.91 L274.89,75.86 L275.38,75.81 L275.87,75.77 L276.36,75.73 L276.85,75.70 L277.34,75.68 L277.83,75.67 L278.32,75.66 L278.81,75.66 L279.29,75.66 L279.78,75.67 L280.27,75.69 L280.76,75.72 L281.24,75.75 L281.73,75.79 L282.21,75.84 L282.70,75.89 L283.18,75.96 L283.66,76.03 L284.14,76.10 L284.62,76.19 L285.09,76.28 L285.57,76.38 L286.04,76.49 L286.51,76.61 L286.98,76.73 L287.44,76.86 L287.91,77.00 L288.37,77.15 L288.83,77.30 L289.29,77.47 L289.74,77.64 L290.20,77.81 L290.65,78.00 L291.10,78.19 L291.54,78.39 L291.99,78.59 L292.43,78.80 L292.87,79.02 L293.31,79.24 L293.75,79.47 L294.18,79.70 L294.61,79.94 L295.04,80.18 L295.47,80.43 L295.90,80.69 L296.32,80.95 L296.74,81.21 L297.16,81.48 L297.58,81.75 L298.00,82.03 L298.41,82.31 L298.82,82.59 L299.23,82.88 L299.64,83.18 L300.04,83.47 L300.45,83.77 L300.85,84.07 L301.25,84.38 L301.64,84.69 L302.04,85.00 L302.43,85.31 L302.82,85.63 L303.21,85.94 L303.59,86.26 L303.98,86.59 L304.36,86.91 L304.74,87.23 L305.12,87.56 L305.49,87.89 L305.87,88.22 L306.24,88.55 L306.61,88.88 L306.98,89.22 L307.35,89.55 L307.71,89.89 L308.07,90.23 L308.44,90.57 L308.80,90.91 L309.15,91.25 L309.51,91.59 L309.87,91.94 L310.22,92.28 L310.57,92.63 L310.93,92.97 L311.28,93.32 L311.63,93.67 L311.97,94.02 L312.32,94.37 L312.67,94.72 L313.01,95.07 L313.35,95.42 L313.70,95.77 L314.04,96.12 L314.38,96.48 L314.72,96.83 L315.06,97.18 L315.39,97.54 L315.73,97.89 L316.07,98.24 L316.40,98.60 L316.74,98.95 L317.07,99.31 L317.41,99.66 L317.74,100.02 L318.07,100.37 L318.40,100.73 L318.73,101.08 L319.07,101.44 L319.40,101.80 L319.72,102.15 L320.05,102.51 L320.38,102.87 L320.71,103.22 L321.04,103.58 L321.36,103.94 L321.69,104.30 L322.01,104.66 L322.34,105.02 L322.66,105.38 L322.98,105.73 L323.31,106.10 L323.63,106.46 L323.95,106.82 L324.27,107.18 L324.59,107.54 L324.91,107.90 L325.23,108.27 L325.55,108.63 L325.87,108.99 L326.18,109.36 L326.50,109.72 L326.82,110.09 L327.13,110.45 L327.45,110.82 L327.76,111.19 L328.08,111.55 L328.39,111.92 L328.71,112.29 L329.02,112.66 L329.33,113.03 L329.64,113.40 L329.96,113.77 L330.27,114.14 L330.58,114.52 L330.89,114.89 L331.20,115.26 L331.51,115.64 L331.81,116.01 L332.12,116.39 L332.43,116.77 L332.74,117.14 L333.04,117.52 L333.35,117.90 L333.66,118.28 L333.96,118.66 L334.27,119.05 L334.57,119.43 L334.88,119.81 L335.18,120.20 L335.48,120.58 L335.79,120.97 L336.09,121.35 L336.39,121.74 L336.69,122.13 L337.00,122.52 L337.30,122.91 L337.60,123.30 L337.90,123.69 L338.20,124.09 L338.50,124.48 L338.80,124.88 L339.10,125.27 L339.40,125.67 L339.69,126.07 L339.99,126.47 L340.29,126.87 L340.59,127.27 L340.89,127.67 L341.18,128.07 L341.48,128.47 L341.78,128.87 L342.08,129.28 L342.38,129.68 L342.68,130.08 L342.98,130.48 L343.28,130.88 L343.58,131.29 L343.88,131.69 L344.18,132.09 L344.48,132.49 L344.78,132.89 L345.08,133.29 L345.39,133.68 L345.69,134.08 L346.00,134.48 L346.30,134.87 L346.61,135.27 L346.92,135.66 L347.23,136.05 L347.54,136.44 L347.85,136.83 L348.16,137.22 L348.47,137.61 L348.79,137.99 L349.10,138.37 L349.42,138.75 L349.74,139.13 L350.06,139.51 L350.38,139.88 L350.71,140.25 L351.03,140.62 L351.36,140.99 L351.69,141.36 L352.02,141.72 L352.35,142.08 L352.69,142.43 L353.02,142.79 L353.36,143.14 L353.70,143.49 L354.05,143.83 L354.39,144.18 L354.74,144.51 L355.09,144.85 L355.44,145.18 L355.79,145.51 L356.15,145.84 L356.51,146.16 L356.87,146.47 L357.23,146.79 L357.60,147.10 L357.97,147.40 L358.34,147.70 L358.72,148.00 L359.09,148.30 L359.48,148.58 L359.86,148.87 L360.25,149.15 L360.64,149.42 L361.03,149.69 L361.42,149.96 L361.82,150.22 L362.22,150.48 L362.63,150.73 L363.04,150.98 L363.45,151.22 L363.86,151.46 L364.28,151.70 L364.69,151.93 L365.12,152.16 L365.54,152.38 L365.96,152.60 L366.39,152.82 L366.82,153.03 L367.26,153.24 L367.69,153.45 L368.13,153.65 L368.57,153.85 L369.01,154.05 L369.45,154.25 L369.90,154.44 L370.35,154.63 L370.79,154.81 L371.25,155.00 L371.70,155.18 L372.15,155.36 L372.61,155.53 L373.06,155.71 L373.52,155.88 L373.98,156.05 L374.44,156.22 L374.91,156.38 L375.37,156.55 L375.83,156.71 L376.30,156.87 L376.77,157.03 L377.23,157.19 L377.70,157.35 L378.17,157.50 L378.64,157.66 L379.11,157.81 L379.59,157.97 L380.06,158.12 L380.53,158.27 L381.01,158.42 L381.48,158.57 L381.95,158.72 L382.43,158.87 L382.90,159.02 L383.38,159.17 L383.85,159.32 L384.33,159.47 L384.80,159.61 L385.28,159.76 L385.76,159.91 L386.23,160.06 L386.71,160.21 L387.18,160.36 L387.65,160.52 L388.13,160.67 L388.60,160.82 L389.07,160.97 L389.55,161.13 L390.02,161.29 L390.49,161.44 L390.96,161.60 L391.42,161.76 L391.89,161.93 L392.36,162.09 L392.82,162.26 L393.29,162.43 L393.75,162.60 L394.21,162.77 L394.67,162.94 L395.13,163.12 L395.58,163.30 L396.04,163.48 L396.49,163.66 L396.94,163.85 L397.39,164.04 L397.84,164.24 L398.28,164.43 L398.72,164.63 L399.16,164.83 L399.60,165.04 L400.04,165.25 L400.47,165.46 L400.90,165.68 L401.33,165.90 L401.75,166.12 L402.18,166.35 L402.59,166.59 L403.01,166.82 L403.43,167.07 L403.84,167.31 L404.24,167.56 L404.65,167.82 L405.05,168.08 L405.45,168.34 L405.84,168.61 L406.23,168.89 L406.62,169.17 L407.00,169.45 L407.38,169.74 L407.76,170.04 L408.13,170.34 L408.49,170.65 L408.86,170.96 L409.22,171.28 L409.57,171.60 L409.93,171.93 L410.27,172.27 L410.62,172.61 L410.96,172.95 L411.29,173.31 L411.63,173.66 L411.96,174.02 L412.28,174.39 L412.60,174.75 L412.92,175.13 L413.23,175.50 L413.55,175.88 L413.85,176.27 L414.16,176.66 L414.46,177.05 L414.76,177.44 L415.05,177.84 L415.34,178.24 L415.63,178.65 L415.91,179.05 L416.20,179.46 L416.47,179.87 L416.75,180.29 L417.02,180.70 L417.29,181.12 L417.56,181.54 L417.82,181.96 L418.09,182.38 L418.34,182.81 L418.60,183.23 L418.85,183.66 L419.10,184.09 L419.35,184.51 L419.60,184.94 L419.84,185.37 L420.08,185.80 L420.32,186.23 L420.56,186.67 L420.79,187.10 L421.03,187.53 L421.26,187.97 L421.49,188.40 L421.71,188.83 L421.94,189.27 L422.16,189.71 L422.39,190.14 L422.61,190.58 L422.83,191.02 L423.05,191.46 L423.26,191.90 L423.48,192.33 L423.70,192.77 L423.91,193.21 L424.12,193.65 L424.34,194.09 L424.55,194.54 L424.76,194.98 L424.97,195.42 L425.18,195.86 L425.39,196.30 L425.60,196.74 L425.81,197.19 L426.01,197.63 L426.22,198.07 L426.42,198.52 L426.63,198.96 L426.83,199.41 L427.04,199.85 L427.24,200.30 L427.44,200.74 L427.64,201.19 L427.84,201.63 L428.04,202.08 L428.24,202.53 L428.44,202.97 L428.63,203.42 L428.83,203.87 L429.03,204.32 L429.22,204.76 L429.42,205.21 L429.61,205.66 L429.80,206.11 L430.00,206.56 L430.19,207.01 L430.38,207.46 L430.57,207.91 L430.76,208.36 L430.95,208.81 L431.14,209.26 L431.33,209.71 L431.51,210.16 L431.70,210.61 L431.89,211.07 L432.07,211.52 L432.26,211.97 L432.44,212.42 L432.63,212.88 L432.81,213.33 L432.99,213.78 L433.18,214.24 L433.36,214.69 L433.54,215.14 L433.72,215.60 L433.90,216.05 L434.08,216.51 L434.26,216.96 L434.44,217.42 L434.61,217.87 L434.79,218.33 L434.97,218.78 L435.15,219.24 L435.32,219.70 L435.50,220.15 L435.67,220.61 L435.85,221.06 L436.02,221.52 L436.19,221.98 L436.37,222.44 L436.54,222.89 L436.71,223.35 L436.88,223.81 L437.06,224.27 L437.23,224.73 L437.40,225.19 L437.57,225.64 L437.74,226.10 L437.91,226.56 L438.08,227.02 L438.24,227.48 L438.41,227.94 L438.58,228.40 L438.75,228.86 L438.91,229.32 L439.08,229.78 L439.25,230.24 L439.41,230.70 L439.58,231.16 L439.74,231.62 L439.91,232.08 L440.07,232.54 L440.24,233.01 L440.40,233.47 L440.56,233.93 L440.73,234.39 L440.89,234.85 L441.05,235.31 L441.21,235.78 L441.38,236.24 L441.54,236.70 L441.70,237.16 L441.86,237.63 L442.02,238.09 L442.18,238.55 L442.34,239.01 L442.50,239.48 L442.66,239.94 L442.82,240.40 L442.98,240.87 L443.14,241.33 L443.30,241.79 L443.46,242.26 L443.62,242.72 L443.77,243.18 L443.93,243.65 L444.09,244.11 L444.25,244.58 L444.40,245.04 L444.56,245.50 L444.72,245.97 L444.88,246.43 L445.03,246.90 L445.19,247.36 L445.35,247.83 L445.50,248.29 L445.66,248.76 L445.81,249.22 L445.97,249.69 L446.12,250.15 L446.28,250.61 L446.44,251.08 L446.59,251.54 L446.75,252.01 L446.90,252.48 L447.06,252.94 L447.21,253.41 L447.37,253.87 L447.52,254.34 L447.68,254.80 L447.83,255.27 L447.99,255.73 L448.14,256.20 L448.29,256.66 L448.45,257.13 L448.60,257.59 L448.76,258.06 L448.91,258.52 L449.07,258.99 L449.22,259.45 L449.37,259.92 L449.53,260.39 L449.68,260.85 L449.84,261.32 L449.99,261.78 L450.15,262.25 L450.30,262.71 L450.45,263.18 L450.61,263.64 L450.76,264.11 L450.92,264.57 L451.07,265.04 L451.23,265.51 L451.38,265.97 L451.54,266.44 L451.69,266.90 L451.85,267.37 L452.00,267.83 L452.16,268.30 L452.31,268.76 L452.47,269.23 L452.62,269.69 L452.78,270.16 L452.93,270.62 L453.09,271.09 L453.24,271.55 L453.40,272.02 L453.56,272.48 L453.71,272.95 L453.87,273.41 L454.02,273.87 L454.18,274.34 L454.34,274.80 L454.50,275.27 L454.65,275.73 L454.81,276.20 L454.97,276.66 L455.12,277.12 L455.28,277.59 L455.44,278.05 L455.60,278.52 L455.76,278.98 L455.92,279.44 L456.08,279.91 L456.24,280.37 L456.39,280.83 L456.55,281.30 L456.71,281.76 L456.87,282.22 L457.03,282.69 L457.20,283.15 L457.36,283.61 L457.52,284.07 L457.68,284.54 L457.84,285.00 L458.00,285.46 L458.17,285.92 L458.33,286.38 L458.49,286.85 L458.66,287.31 L458.82,287.77 L458.98,288.23 L459.15,288.69 L459.31,289.15 L459.48,289.61 L459.64,290.07 L459.81,290.54 L459.97,291.00 L460.14,291.46 L460.31,291.92 L460.48,292.38 L460.64,292.84 L460.81,293.30 L460.98,293.76 L461.15,294.21 L461.32,294.67 L461.49,295.13 L461.66,295.59 L461.83,296.05 L462.00,296.51 L462.17,296.97 L462.34,297.43 L462.51,297.88 L462.69,298.34 L462.86,298.80 L463.03,299.26 L463.21,299.71 L463.38,300.17 L463.56,300.63 L463.73,301.08 L463.91,301.54 L464.08,302.00 L464.26,302.45 L464.44,302.91 L464.62,303.36 L464.79,303.82 L464.97,304.27 L465.15,304.73 L465.33,305.18 L465.51,305.64 L465.69,306.09 L465.88,306.55 L466.06,307.00 L466.24,307.45 L466.42,307.91 L466.61,308.36 L466.79,308.81 L466.98,309.26 L467.16,309.72 L467.35,310.17 L467.54,310.62 L467.72,311.07 L467.91,311.52 L468.10,311.97 L468.29,312.43 L468.48,312.88 L468.67,313.33 L468.86,313.78 L469.05,314.23 L469.25,314.68 L469.44,315.12 L469.63,315.57 L469.83,316.02 L470.02,316.47 L470.22,316.92 L470.41,317.37 L470.61,317.81 L470.81,318.26 L471.01,318.71 L471.21,319.15 L471.41,319.60 L471.61,320.05 L471.81,320.49 L472.01,320.94 L472.21,321.38 L472.42,321.83 L472.62,322.27 L472.83,322.72 L473.03,323.16 L473.24,323.60 L473.45,324.05 L473.65,324.49 L473.86,324.93 L474.07,325.37 L474.28,325.81 L474.50,326.26 L474.71,326.70 L474.92,327.14 L475.13,327.58 L475.35,328.02 L475.56,328.46 L475.78,328.90 L476.00,329.34 L476.21,329.78 L476.43,330.21 L476.65,330.65 L476.87,331.09 L477.09,331.53 L477.32,331.96 L477.54,332.40 L477.76,332.84 L477.99,333.27 L478.21,333.71 L478.44,334.14 L478.67,334.58 L478.90,335.01 L479.12,335.45 L479.35,335.88 L479.59,336.31 L479.82,336.75 L480.05,337.18 L480.28,337.61 L480.52,338.04 L480.75,338.47 L480.99,338.90 L481.23,339.33 L481.47,339.76 L481.71,340.19 L481.95,340.62 L482.19,341.05 L482.43,341.48 L482.67,341.91 L482.92,342.33 L483.16,342.76 L483.41,343.19 L483.66,343.61 L483.91,344.04 L484.16,344.47 L484.41,344.89 L484.66,345.31 L484.91,345.74 L485.16,346.16 L485.42,346.59" stroke="#D95319"/>
<path d="M53.63,291.92 L53.97,291.65 L54.31,291.38 L54.65,291.10 L54.99,290.82 L55.33,290.55 L55.67,290.27 L56.01,289.98 L56.34,289.70 L56.68,289.42 L57.01,289.13 L57.34,288.85 L57.67,288.56 L58.00,288.27 L58.33,287.98 L58.66,287.68 L58.99,287.39 L59.32,287.10 L59.64,286.80 L59.97,286.50 L60.29,286.20 L60.61,285.90 L60.93,285.60 L61.26,285.30 L61.58,284.99 L61.89,284.69 L62.21,284.38 L62.53,284.08 L62.85,283.77 L63.16,283.46 L63.48,283.15 L63.79,282.83 L64.10,282.52 L64.42,282.21 L64.73,281.89 L65.04,281.58 L65.35,281.26 L65.66,280.94 L65.96,280.62 L66.27,280.30 L66.58,279.98 L66.88,279.66 L67.19,279.33 L67.49,279.01 L67.80,278.69 L68.10,278.36 L68.40,278.03 L68.70,277.71 L69.00,277.38 L69.30,277.05 L69.60,276.72 L69.90,276.39 L70.20,276.06 L70.50,275.73 L70.79,275.39 L71.09,275.06 L71.38,274.73 L71.68,274.39 L71.97,274.06 L72.27,273.72 L72.56,273.38 L72.85,273.05 L73.14,272.71 L73.43,272.37 L73.72,272.03 L74.01,271.69 L74.30,271.35 L74.59,271.01 L74.88,270.67 L75.17,270.33 L75.45,269.99 L75.74,269.64 L76.03,269.30 L76.31,268.96 L76.60,268.62 L76.88,268.27 L77.17,267.93 L77.45,267.58 L77.73,267.24 L78.02,266.89 L78.30,266.55 L78.58,266.20 L78.86,265.85 L79.14,265.51 L79.42,265.16 L79.70,264.81 L79.98,264.47 L80.26,264.12 L80.54,263.77 L80.82,263.42 L81.10,263.08 L81.38,262.73 L81.65,262.38 L81.93,262.03 L82.21,261.68 L82.48,261.33 L82.76,260.99 L83.04,260.64 L83.31,260.29 L83.59,259.94 L83.86,259.59 L84.13,259.24 L84.41,258.89 L84.68,258.53 L84.95,258.18 L85.23,257.83 L85.50,257.48 L85.77,257.13 L86.04,256.78 L86.31,256.43 L86.58,256.07 L86.85,255.72 L87.12,255.37 L87.39,255.02 L87.66,254.66 L87.93,254.31 L88.20,253.96 L88.47,253.60 L88.74,253.25 L89.01,252.90 L89.27,252.54 L89.54,252.19 L89.81,251.83 L90.07,251.48 L90.34,251.12 L90.60,250.77 L90.87,250.41 L91.14,250.06 L91.40,249.70 L91.66,249.35 L91.93,248.99 L92.19,248.63 L92.46,248.28 L92.72,247.92 L92.98,247.56 L93.24,247.21 L93.51,246.85 L93.77,246.49 L94.03,246.13 L94.29,245.78 L94.55,245.42 L94.81,245.06 L95.07,244.70 L95.33,244.34 L95.59,243.98 L95.85,243.62 L96.11,243.27 L96.37,242.91 L96.63,242.55 L96.89,242.19 L97.15,241.83 L97.41,241.47 L97.66,241.11 L97.92,240.75 L98.18,240.39 L98.44,240.02 L98.69,239.66 L98.95,239.30 L99.20,238.94 L99.46,238.58 L99.72,238.22 L99.97,237.86 L100.23,237.49 L100.48,237.13 L100.74,236.77 L100.99,236.41 L101.24,236.04 L101.50,235.68 L101.75,235.32 L102.01,234.96 L102.26,234.59 L102.51,234.23 L102.76,233.86 L103.02,233.50 L103.27,233.14 L103.52,232.77 L103.77,232.41 L104.03,232.04 L104.28,231.68 L104.53,231.31 L104.78,230.95 L105.03,230.58 L105.28,230.22 L105.53,229.85 L105.78,229.49 L106.03,229.12 L106.28,228.75 L106.53,228.39 L106.78,228.02 L107.03,227.66 L107.28,227.29 L107.53,226.92 L107.78,226.55 L108.02,226.19 L108.27,225.82 L108.52,225.45 L108.77,225.08 L109.02,224.72 L109.26,224.35 L109.51,223.98 L109.76,223.61 L110.01,223.24 L110.25,222.88 L110.50,222.51 L110.75,222.14 L110.99,221.77 L111.24,221.40 L111.48,221.03 L111.73,220.66 L111.98,220.29 L112.22,219.92 L112.47,219.55 L112.71,219.18 L112.96,218.81 L113.20,218.44 L113.45,218.07 L113.69,217.70 L113.94,217.33 L114.18,216.96 L114.43,216.59 L114.67,216.21 L114.91,215.84 L115.16,215.47 L115.40,215.10 L115.65,214.73 L115.89,214.36 L116.13,213.98 L116.38,213.61 L116.62,213.24 L116.86,212.87 L117.11,212.49 L117.35,212.12 L117.59,211.75 L117.83,211.38 L118.08,211.00 L118.32,210.63 L118.56,210.26 L118.80,209.88 L119.04,209.51 L119.29,209.14 L119.53,208.76 L119.77,208.39 L120.01,208.01 L120.25,207.64 L120.49,207.27 L120.73,206.89 L120.97,206.52 L121.21,206.14 L121.46,205.77 L121.70,205.39 L121.94,205.02 L122.18,204.64 L122.42,204.27 L122.66,203.89 L122.90,203.52 L123.14,203.14 L123.38,202.77 L123.62,202.39 L123.86,202.01 L124.10,201.64 L124.33,201.26 L124.57,200.89 L124.81,200.51 L125.05,200.13 L125.29,199.76 L125.53,199.38 L125.77,199.01 L126.01,198.63 L126.25,198.25 L126.48,197.88 L126.72,197.50 L126.96,197.12 L127.20,196.74 L127.44,196.37 L127.68,195.99 L127.91,195.61 L128.15,195.24 L128.39,194.86 L128.63,194.48 L128.86,194.10 L129.10,193.73 L129.34,193.35 L129.58,192.97 L129.81,192.59 L130.05,192.22 L130.29,191.84 L130.52,191.46 L130.76,191.08 L131.00,190.70 L131.24,190.32 L131.47,189.95 L131.71,189.57 L131.95,189.19 L132.18,188.81 L132.42,188.43 L132.65,188.05 L132.89,187.68 L133.13,187.30 L133.36,186.92 L133.60,186.54 L133.84,186.16 L134.07,185.78 L134.31,185.40 L134.54,185.02 L134.78,184.65 L135.01,184.27 L135.25,183.89 L135.49,183.51 L135.72,183.13 L135.96,182.75 L136.19,182.37 L136.43,181.99 L136.66,181.61 L136.90,181.23 L137.13,180.85 L137.37,180.47 L137.60,180.09 L137.84,179.71 L138.07,179.33 L138.31,178.96 L138.54,178.58 L138.78,178.20 L139.01,177.82 L139.25,177.44 L139.48,177.06 L139.72,176.68 L139.95,176.30 L140.19,175.92 L140.42,175.54 L140.65,175.16 L140.89,174.78 L141.12,174.40 L141.36,174.02 L141.59,173.64 L141.83,173.26 L142.06,172.88 L142.30,172.50 L142.53,172.12 L142.76,171.74 L143.00,171.36 L143.23,170.98 L143.47,170.60 L143.70,170.22 L143.93,169.84 L144.17,169.46 L144.40,169.08 L144.64,168.70 L144.87,168.32 L145.10,167.94 L145.34,167.56 L145.57,167.18 L145.81,166.80 L146.04,166.42 L146.27,166.04 L146.51,165.66 L146.74,165.28 L146.98,164.90 L147.21,164.52 L147.44,164.14 L147.68,163.76 L147.91,163.38 L148.14,163.00 L148.38,162.62 L148.61,162.24 L148.85,161.86 L149.08,161.48 L149.31,161.10 L149.55,160.72 L149.78,160.34 L150.01,159.96 L150.25,159.58 L150.48,159.20 L150.72,158.82 L150.95,158.44 L151.18,158.06 L151.42,157.68 L151.65,157.30 L151.88,156.92 L152.12,156.55 L152.35,156.17 L152.59,155.79 L152.82,155.41 L153.05,155.03 L153.29,154.65 L153.52,154.27 L153.75,153.89 L153.99,153.51 L154.22,153.13 L154.46,152.75 L154.69,152.37 L154.92,152.00 L155.16,151.62 L155.39,151.24 L155.63,150.86 L155.86,150.48 L156.09,150.10 L156.33,149.72 L156.56,149.34 L156.80,148.97 L157.03,148.59 L157.26,148.21 L157.50,147.83 L157.73,147.45 L157.97,147.07 L158.20,146.70 L158.44,146.32 L158.67,145.94 L158.90,145.56 L159.14,145.18 L159.37,144.81 L159.61,144.43 L159.84,144.05 L160.08,143.67 L160.31,143.30 L160.55,142.92 L160.78,142.54 L161.02,142.16 L161.25,141.79 L161.48,141.41 L161.72,141.03 L161.95,140.65 L162.19,140.28 L162.42,139.90 L162.66,139.52 L162.89,139.15 L163.13,138.77 L163.36,138.39 L163.60,138.02 L163.84,137.64 L164.07,137.27 L164.31,136.89 L164.54,136.51 L164.78,136.14 L165.01,135.76 L165.25,135.39 L165.48,135.01 L165.72,134.63 L165.96,134.26 L166.19,133.88 L166.43,133.51 L166.66,133.13 L166.90,132.76 L167.14,132.38 L167.37,132.01 L167.61,131.63 L167.84,131.26 L168.08,130.88 L168.32,130.51 L168.55,130.14 L168.79,129.76 L169.03,129.39 L169.26,129.01 L169.50,128.64 L169.74,128.27 L169.98,127.89 L170.21,127.52 L170.45,127.15 L170.69,126.77 L170.92,126.40 L171.16,126.03 L171.40,125.65 L171.64,125.28 L171.87,124.91 L172.11,124.53 L172.35,124.16 L172.59,123.79 L172.83,123.42 L173.06,123.05 L173.30,122.67 L173.54,122.30 L173.78,121.93 L174.02,121.56 L174.26,121.19 L174.49,120.82 L174.73,120.45 L174.97,120.08 L175.21,119.70 L175.45,119.33 L175.69,118.96 L175.93,118.59 L176.17,118.22 L176.41,117.85 L176.65,117.48 L176.89,117.11 L177.13,116.74 L177.37,116.37 L177.61,116.01 L177.85,115.64 L178.09,115.27 L178.33,114.90 L178.57,114.53 L178.81,114.16 L179.06,113.79 L179.30,113.43 L179.54,113.06 L179.78,112.69 L180.02,112.32 L180.27,111.96 L180.51,111.59 L180.76,111.22 L181.00,110.86 L181.24,110.49 L181.49,110.12 L181.73,109.76 L181.98,109.39 L182.22,109.03 L182.47,108.66 L182.72,108.30 L182.96,107.93 L183.21,107.57 L183.46,107.20 L183.71,106.84 L183.96,106.48 L184.20,106.11 L184.45,105.75 L184.70,105.39 L184.95,105.02 L185.20,104.66 L185.46,104.30 L185.71,103.94 L185.96,103.57 L186.21,103.21 L186.47,102.85 L186.72,102.49 L186.97,102.13 L187.23,101.77 L187.48,101.41 L187.74,101.05 L188.00,100.69 L188.25,100.33 L188.51,99.97 L188.77,99.62 L189.03,99.26 L189.29,98.90 L189.55,98.54 L189.81,98.18 L190.07,97.83 L190.33,97.47 L190.60,97.11 L190.86,96.76 L191.12,96.40 L191.39,96.05 L191.66,95.69 L191.92,95.34 L192.19,94.98 L192.46,94.63 L192.73,94.28 L192.99,93.92 L193.26,93.57 L193.54,93.22 L193.81,92.87 L194.08,92.51 L194.35,92.16 L194.63,91.81 L194.90,91.46 L195.18,91.11 L195.45,90.76 L195.73,90.41 L196.01,90.06 L196.29,89.71 L196.57,89.36 L196.85,89.02 L197.13,88.67 L197.41,88.32 L197.70,87.98 L197.98,87.63 L198.27,87.28 L198.55,86.94 L198.84,86.59 L199.13,86.25 L199.42,85.90 L199.71,85.56 L200.00,85.22 L200.29,84.87 L200.58,84.53 L200.88,84.19 L201.17,83.85 L201.47,83.50 L201.77,83.16 L202.07,82.82 L202.36,82.48 L202.66,82.14 L202.97,81.81 L203.27,81.47 L203.57,81.13 L203.88,80.79 L204.18,80.46 L204.49,80.12 L204.80,79.79 L205.11,79.45 L205.42,79.12 L205.73,78.79 L206.04,78.46 L206.35,78.13 L206.67,77.80 L206.98,77.47 L207.30,77.14 L207.62,76.82 L207.93,76.49 L208.25,76.17 L208.57,75.85 L208.90,75.53 L209.22,75.21 L209.54,74.89 L209.87,74.57 L210.20,74.25 L210.52,73.94 L210.85,73.63 L211.18,73.32 L211.51,73.01 L211.84,72.70 L212.18,72.39 L212.51,72.09 L212.85,71.78 L213.18,71.48 L213.52,71.18 L213.86,70.88 L214.20,70.59 L214.54,70.29 L214.88,70.00 L215.23,69.71 L215.57,69.42 L215.92,69.13 L216.27,68.85 L216.61,68.57 L216.96,68.29 L217.31,68.01 L217.67,67.73 L218.02,67.46 L218.37,67.19 L218.73,66.92 L219.09,66.65 L219.44,66.39 L219.80,66.12 L220.16,65.86 L220.52,65.60 L220.89,65.35 L221.25,65.10 L221.62,64.85 L221.98,64.60 L222.35,64.35 L222.72,64.11 L223.09,63.87 L223.46,63.64 L223.83,63.40 L224.21,63.17 L224.58,62.94 L224.96,62.72 L225.33,62.49 L225.71,62.27 L226.09,62.06 L226.47,61.84 L226.86,61.63 L227.24,61.42 L227.63,61.22 L228.01,61.02 L228.40,60.82 L228.79,60.63 L229.18,60.43 L229.57,60.24 L229.96,60.06 L230.36,59.88 L230.75,59.70 L231.15,59.52 L231.55,59.35 L231.95,59.18 L232.35,59.02 L232.75,58.86 L233.15,58.70 L233.56,58.55 L233.96,58.40 L234.37,58.25 L234.78,58.11 L235.19,57.97 L235.60,57.84 L236.01,57.70 L236.43,57.58 L236.84,57.45 L237.26,57.33 L237.67,57.22 L238.09,57.11 L238.51,57.00 L238.94,56.90 L239.36,56.80 L239.78,56.70 L240.21,56.61 L240.64,56.53 L241.07,56.44 L241.50,56.36 L241.93,56.29 L242.36,56.22 L242.79,56.15 L243.23,56.09 L243.66,56.04 L244.10,55.98 L244.54,55.93 L244.97,55.89 L245.41,55.85 L245.85,55.81 L246.29,55.78 L246.73,55.75 L247.18,55.72 L247.62,55.70 L248.06,55.69 L248.50,55.67 L248.95,55.66 L249.39,55.66 L249.84,55.66 L250.28,55.66 L250.73,55.67 L251.17,55.68 L251.62,55.69 L252.06,55.71 L252.51,55.73 L252.96,55.76 L253.40,55.79 L253.85,55.83 L254.29,55.86 L254.74,55.91 L255.18,55.95 L255.63,56.00 L256.07,56.05 L256.52,56.11 L256.96,56.17 L257.41,56.24 L257.85,56.31 L258.29,56.38 L258.73,56.45 L259.18,56.53 L259.62,56.62 L260.06,56.70 L260.50,56.79 L260.94,56.89 L261.37,56.99 L261.81,57.09 L262.25,57.19 L262.68,57.30 L263.12,57.42 L263.55,57.53 L263.98,57.65 L264.41,57.78 L264.84,57.90 L265.27,58.04 L265.70,58.17 L266.12,58.31 L266.55,58.45 L266.97,58.59 L267.39,58.74 L267.81,58.89 L268.23,59.05 L268.65,59.21 L269.06,59.37 L269.47,59.54 L269.89,59.71 L270.30,59.88 L270.70,60.06 L271.11,60.24 L271.51,60.42 L271.92,60.61 L272.32,60.80 L272.72,60.99 L273.11,61.18 L273.51,61.38 L273.90,61.59 L274.30,61.79 L274.69,62.00 L275.08,62.21 L275.46,62.42 L275.85,62.64 L276.23,62.86 L276.62,63.08 L277.00,63.31 L277.38,63.53 L277.76,63.76 L278.13,64.00 L278.51,64.23 L278.88,64.47 L279.26,64.71 L279.63,64.95 L280.00,65.20 L280.37,65.44 L280.74,65.69 L281.10,65.95 L281.47,66.20 L281.83,66.45 L282.19,66.71 L282.56,66.97 L282.92,67.23 L283.28,67.50 L283.63,67.76 L283.99,68.03 L284.35,68.30 L284.70,68.57 L285.06,68.84 L285.41,69.12 L285.76,69.39 L286.11,69.67 L286.46,69.95 L286.81,70.23 L287.16,70.51 L287.51,70.79 L287.85,71.08 L288.20,71.36 L288.55,71.65 L288.89,71.94 L289.23,72.22 L289.58,72.51 L289.92,72.81 L290.26,73.10 L290.60,73.39 L290.94,73.68 L291.28,73.98 L291.62,74.27 L291.96,74.57 L292.29,74.87 L292.63,75.16 L292.97,75.46 L293.30,75.76 L293.64,76.06 L293.97,76.36 L294.31,76.66 L294.64,76.96 L294.98,77.26 L295.31,77.57 L295.64,77.87 L295.97,78.17 L296.30,78.48 L296.63,78.78 L296.96,79.08 L297.29,79.39 L297.62,79.70 L297.95,80.00 L298.28,80.31 L298.61,80.62 L298.93,80.92 L299.26,81.23 L299.59,81.54 L299.91,81.85 L300.24,82.16 L300.56,82.47 L300.89,82.78 L301.21,83.09 L301.53,83.40 L301.85,83.71 L302.18,84.02 L302.50,84.34 L302.82,84.65 L303.14,84.96 L303.46,85.27 L303.78,85.59 L304.10,85.90 L304.41,86.22 L304.73,86.53 L305.05,86.84 L305.36,87.16 L305.68,87.47 L306.00,87.79 L306.31,88.10 L306.63,88.42 L306.94,88.74 L307.25,89.05 L307.57,89.37 L307.88,89.69 L308.19,90.00 L308.50,90.32 L308.81,90.64 L309.12,90.95 L309.43,91.27 L309.74,91.59 L310.05,91.90 L310.36,92.22 L310.67,92.54 L310.98,92.86 L311.28,93.18 L311.59,93.49 L311.89,93.81 L312.20,94.13 L312.50,94.45 L312.81,94.76 L313.11,95.08 L313.42,95.40 L313.72,95.72 L314.02,96.04 L314.32,96.35 L314.62,96.67 L314.93,96.99 L315.23,97.31 L315.53,97.63 L315.82,97.94 L316.12,98.26 L316.42,98.58 L316.72,98.90 L317.02,99.21 L317.32,99.53 L317.61,99.85 L317.91,100.17 L318.21,100.48 L318.50,100.80 L318.80,101.12 L319.10,101.43 L319.39,101.75 L319.69,102.07 L319.98,102.39 L320.28,102.70 L320.58,103.02 L320.87,103.34 L321.17,103.66 L321.47,103.97 L321.76,104.29 L322.06,104.61 L322.36,104.93 L322.65,105.24 L322.95,105.56 L323.25,105.88 L323.55,106.20 L323.84,106.51 L324.14,106.83 L324.44,107.15 L324.74,107.47 L325.04,107.79 L325.34,108.11 L325.64,108.42 L325.94,108.74 L326.25,109.06 L326.55,109.38 L326.85,109.70 L327.16,110.02 L327.46,110.34 L327.77,110.66 L328.07,110.98 L328.38,111.30 L328.69,111.62 L329.00,111.94 L329.31,112.26 L329.62,112.58 L329.93,112.90 L330.24,113.22 L330.56,113.54 L330.87,113.86 L331.19,114.18 L331.51,114.50 L331.82,114.82 L332.14,115.14 L332.46,115.47 L332.79,115.79 L333.11,116.11 L333.43,116.43 L333.76,116.76 L334.09,117.08 L334.41,117.40 L334.74,117.72 L335.07,118.05 L335.41,118.37 L335.74,118.69 L336.07,119.01 L336.41,119.33 L336.75,119.64 L337.09,119.96 L337.43,120.27 L337.77,120.59 L338.11,120.90 L338.46,121.21 L338.80,121.52 L339.15,121.83 L339.50,122.13 L339.85,122.43 L340.20,122.73 L340.55,123.03 L340.90,123.32 L341.26,123.62 L341.62,123.91 L341.98,124.19 L342.34,124.48 L342.70,124.76 L343.06,125.03 L343.42,125.31 L343.79,125.58 L344.16,125.84 L344.53,126.10 L344.90,126.36 L345.27,126.62 L345.64,126.87 L346.01,127.11 L346.39,127.35 L346.77,127.59 L347.15,127.82 L347.53,128.05 L347.91,128.27 L348.29,128.49 L348.68,128.70 L349.07,128.91 L349.46,129.11 L349.85,129.30 L350.24,129.49 L350.63,129.67 L351.02,129.85 L351.42,130.02 L351.82,130.19 L352.22,130.35 L352.62,130.50 L353.02,130.65 L353.43,130.79 L353.83,130.92 L354.24,131.05 L354.65,131.16 L355.06,131.28 L355.47,131.38 L355.89,131.48 L356.30,131.57 L356.72,131.65 L357.14,131.72 L357.56,131.79 L357.98,131.85 L358.40,131.91 L358.83,131.96 L359.25,132.00 L359.68,132.03 L360.10,132.06 L360.53,132.08 L360.96,132.09 L361.39,132.10 L361.82,132.10 L362.25,132.10 L362.68,132.09 L363.11,132.07 L363.54,132.05 L363.98,132.02 L364.41,131.98 L364.84,131.94 L365.28,131.90 L365.71,131.84 L366.14,131.78 L366.58,131.72 L367.01,131.65 L367.44,131.57 L367.88,131.49 L368.31,131.41 L368.74,131.32 L369.17,131.22 L369.60,131.12 L370.04,131.01 L370.47,130.90 L370.90,130.78 L371.32,130.66 L371.75,130.53 L372.18,130.40 L372.61,130.26 L373.03,130.12 L373.46,129.97 L373.88,129.82 L374.30,129.66 L374.72,129.50 L375.14,129.34 L375.56,129.17 L375.98,129.00 L376.40,128.82 L376.81,128.64 L377.22,128.45 L377.63,128.26 L378.04,128.07 L378.45,127.87 L378.86,127.67 L379.26,127.46 L379.66,127.25 L380.06,127.04 L380.46,126.82 L380.85,126.60 L381.25,126.38 L381.64,126.16 L382.03,125.93 L382.41,125.69 L382.80,125.46 L383.18,125.22 L383.56,124.97 L383.93,124.73 L384.31,124.48 L384.68,124.23 L385.05,123.98 L385.42,123.72 L385.79,123.47 L386.16,123.21 L386.52,122.95 L386.89,122.70 L387.26,122.44 L387.63,122.18 L388.00,121.92 L388.38,121.66 L388.75,121.41 L389.13,121.15 L389.51,120.90 L389.89,120.65 L390.27,120.40 L390.66,120.15 L391.05,119.90 L391.45,119.66 L391.85,119.42 L392.25,119.19 L392.65,118.96 L393.06,118.73 L393.47,118.50 L393.88,118.29 L394.29,118.07 L394.70,117.86 L395.12,117.66 L395.54,117.46 L395.96,117.27 L396.38,117.08 L396.81,116.90 L397.23,116.72 L397.66,116.56 L398.08,116.40 L398.51,116.25 L398.94,116.10 L399.37,115.96 L399.80,115.83 L400.23,115.71 L400.66,115.60 L401.09,115.50 L401.52,115.41 L401.95,115.32 L402.38,115.25 L402.81,115.18 L403.24,115.13 L403.67,115.09 L404.10,115.05 L404.53,115.03 L404.95,115.02 L405.38,115.02 L405.80,115.04 L406.22,115.06 L406.65,115.10 L407.07,115.15 L407.48,115.21 L407.90,115.28 L408.32,115.36 L408.73,115.46 L409.14,115.56 L409.55,115.68 L409.96,115.80 L410.36,115.94 L410.77,116.08 L411.17,116.23 L411.57,116.40 L411.97,116.57 L412.36,116.75 L412.75,116.94 L413.14,117.13 L413.53,117.34 L413.92,117.55 L414.30,117.77 L414.68,117.99 L415.06,118.23 L415.44,118.47 L415.81,118.71 L416.18,118.97 L416.54,119.22 L416.91,119.49 L417.27,119.76 L417.63,120.03 L417.98,120.31 L418.34,120.59 L418.68,120.88 L419.03,121.17 L419.37,121.47 L419.71,121.77 L420.05,122.07 L420.38,122.38 L420.71,122.69 L421.03,123.00 L421.35,123.32 L421.67,123.63 L421.99,123.95 L422.30,124.28 L422.61,124.60 L422.91,124.93 L423.21,125.26 L423.51,125.59 L423.80,125.92 L424.09,126.26 L424.38,126.60 L424.67,126.94 L424.95,127.28 L425.23,127.63 L425.50,127.97 L425.78,128.32 L426.05,128.68 L426.32,129.03 L426.58,129.38 L426.84,129.74 L427.10,130.10 L427.36,130.46 L427.61,130.82 L427.86,131.19 L428.11,131.56 L428.36,131.92 L428.60,132.29 L428.84,132.67 L429.08,133.04 L429.32,133.41 L429.55,133.79 L429.79,134.17 L430.02,134.55 L430.24,134.93 L430.47,135.31 L430.69,135.69 L430.91,136.08 L431.13,136.46 L431.35,136.85 L431.57,137.24 L431.78,137.63 L431.99,138.02 L432.20,138.41 L432.41,138.81 L432.62,139.20 L432.83,139.60 L433.03,139.99 L433.23,140.39 L433.43,140.79 L433.63,141.19 L433.83,141.59 L434.02,141.99 L434.22,142.39 L434.41,142.79 L434.61,143.20 L434.80,143.60 L434.99,144.01 L435.18,144.41 L435.36,144.82 L435.55,145.22 L435.74,145.63 L435.92,146.04 L436.10,146.45 L436.29,146.85 L436.47,147.26 L436.65,147.67 L436.83,148.08 L437.01,148.49 L437.19,148.90 L437.37,149.31 L437.55,149.72 L437.72,150.13 L437.90,150.54 L438.08,150.95 L438.25,151.36 L438.43,151.77 L438.60,152.18 L438.78,152.59 L438.95,153.00 L439.13,153.41 L439.30,153.82 L439.48,154.23 L439.65,154.64 L439.82,155.05 L440.00,155.46 L440.17,155.87 L440.34,156.28 L440.51,156.69 L440.69,157.10 L440.86,157.51 L441.03,157.92 L441.20,158.33 L441.37,158.74 L441.54,159.15 L441.71,159.56 L441.88,159.97 L442.05,160.38 L442.22,160.79 L442.39,161.20 L442.56,161.61 L442.73,162.02 L442.90,162.43 L443.07,162.84 L443.24,163.25 L443.41,163.66 L443.57,164.07 L443.74,164.48 L443.91,164.89 L444.08,165.30 L444.25,165.71 L444.41,166.12 L444.58,166.53 L444.75,166.94 L444.92,167.35 L445.08,167.76 L445.25,168.17 L445.42,168.58 L445.58,168.99 L445.75,169.40 L445.92,169.81 L446.08,170.22 L446.25,170.63 L446.41,171.04 L446.58,171.45 L446.75,171.86 L446.91,172.27 L447.08,172.68 L447.24,173.09 L447.41,173.50 L447.58,173.92 L447.74,174.33 L447.91,174.74 L448.07,175.15 L448.24,175.56 L448.40,175.97 L448.57,176.38 L448.73,176.79 L448.90,177.20 L449.06,177.61 L449.23,178.02 L449.39,178.44 L449.56,178.85 L449.73,179.26 L449.89,179.67 L450.06,180.08 L450.22,180.49 L450.39,180.90 L450.55,181.32 L450.72,181.73 L450.88,182.14 L451.05,182.55 L451.21,182.96 L451.38,183.38 L451.55,183.79 L451.71,184.20 L451.88,184.61 L452.04,185.02 L452.21,185.44 L452.37,185.85 L452.54,186.26 L452.71,186.67 L452.87,187.08 L453.04,187.50 L453.20,187.91 L453.37,188.32 L453.54,188.73 L453.70,189.14 L453.87,189.56 L454.04,189.97 L454.20,190.38 L454.37,190.79 L454.54,191.20 L454.71,191.62 L454.87,192.03 L455.04,192.44 L455.21,192.85 L455.38,193.26 L455.55,193.68 L455.71,194.09 L455.88,194.50 L456.05,194.91 L456.22,195.32 L456.39,195.74 L456.56,196.15 L456.73,196.56 L456.90,196.97 L457.06,197.38 L457.23,197.79 L457.40,198.20 L457.57,198.62 L457.74,199.03 L457.92,199.44 L458.09,199.85 L458.26,200.26 L458.43,200.67 L458.60,201.08 L458.77,201.49 L458.94,201.90 L459.12,202.31 L459.29,202.72 L459.46,203.14 L459.63,203.55 L459.81,203.96 L459.98,204.37 L460.15,204.78 L460.33,205.19 L460.50,205.60 L460.68,206.01 L460.85,206.41 L461.03,206.82 L461.20,207.23 L461.38,207.64 L461.55,208.05 L461.73,208.46 L461.91,208.87 L462.08,209.28 L462.26,209.69 L462.44,210.10 L462.61,210.50 L462.79,210.91 L462.97,211.32 L463.15,211.73 L463.33,212.14 L463.51,212.54 L463.69,212.95 L463.87,213.36 L464.05,213.76 L464.23,214.17 L464.41,214.58 L464.59,214.98 L464.77,215.39 L464.96,215.80 L465.14,216.20 L465.32,216.61 L465.51,217.01 L465.69,217.42 L465.87,217.82 L466.06,218.23 L466.24,218.63 L466.43,219.04 L466.61,219.44 L466.80,219.85 L466.99,220.25 L467.18,220.66 L467.36,221.06 L467.55,221.46 L467.74,221.87 L467.93,222.27 L468.12,222.67 L468.31,223.07 L468.50,223.48 L468.69,223.88 L468.88,224.28 L469.07,224.68 L469.26,225.08 L469.46,225.48 L469.65,225.88 L469.84,226.28 L470.04,226.68 L470.23,227.08 L470.43,227.48 L470.62,227.88 L470.82,228.28 L471.01,228.68 L471.21,229.08 L471.41,229.48 L471.61,229.88 L471.81,230.28 L472.00,230.67 L472.20,231.07 L472.40,231.47 L472.61,231.86 L472.81,232.26 L473.01,232.66 L473.21,233.05 L473.41,233.45 L473.62,233.84 L473.82,234.24 L474.03,234.63 L474.23,235.03 L474.44,235.42 L474.64,235.81 L474.85,236.21 L475.06,236.60 L475.27,236.99 L475.48,237.39 L475.69,237.78 L475.90,238.17 L476.11,238.56 L476.32,238.95 L476.53,239.34 L476.74,239.73 L476.96,240.12 L477.17,240.51 L477.38,240.90 L477.60,241.29 L477.81,241.68 L478.03,242.07 L478.25,242.46 L478.47,242.84 L478.68,243.23 L478.90,243.62 L479.12,244.00 L479.34,244.39 L479.56,244.77 L479.79,245.16 L480.01,245.54 L480.23,245.93 L480.46,246.31 L480.68,246.70 L480.91,247.08 L481.13,247.46 L481.36,247.85 L481.59,248.23 L481.81,248.61 L482.04,248.99 L482.27,249.37 L482.50,249.75 L482.73,250.13 L482.97,250.51 L483.20,250.89 L483.43,251.27 L483.67,251.65 L483.90,252.03 L484.14,252.40 L484.37,252.78 L484.61,253.16 L484.85,253.53 L485.09,253.91 L485.33,254.28 L485.57,254.66" stroke="#EDB120"/>
</g>
<g stroke="#464646" stroke-width="1.2" fill="none">
<rect x="53.5" y="12.5" width="480" height="379"/>
<path d="M113.5 391V385.8M113.5 13V18.2"/><path d="M173.5 391V385.8M173.5 13V18.2"/><path d="M233.5 391V385.8M233.5 13V18.2"/><path d="M293.5 391V385.8M293.5 13V18.2"/><path d="M353.5 391V385.8M353.5 13V18.2"/><path d="M413.5 391V385.8M413.5 13V18.2"/><path d="M473.5 391V385.8M473.5 13V18.2"/><path d="M54 328.33H59.2M533 328.33H527.8"/><path d="M54 265.17H59.2M533 265.17H527.8"/><path d="M54 202.00H59.2M533 202.00H527.8"/><path d="M54 138.83H59.2M533 138.83H527.8"/><path d="M54 75.67H59.2M533 75.67H527.8"/>
</g>
<g font-size="15"><text transform="translate(53.50,412.60) scale(1,1.001)" text-anchor="middle">0</text><text transform="translate(113.50,412.60) scale(1,1.001)" text-anchor="middle">50</text><text transform="translate(173.50,412.60) scale(1,1.001)" text-anchor="middle">100</text><text transform="translate(233.50,412.60) scale(1,1.001)" text-anchor="middle">150</text><text transform="translate(293.50,412.60) scale(1,1.001)" text-anchor="middle">200</text><text transform="translate(353.50,412.60) scale(1,1.001)" text-anchor="middle">250</text><text transform="translate(413.50,412.60) scale(1,1.001)" text-anchor="middle">300</text><text transform="translate(473.50,412.60) scale(1,1.001)" text-anchor="middle">350</text><text transform="translate(533.50,412.60) scale(1,1.001)" text-anchor="middle">400</text><text transform="translate(47.50,397.70) scale(1,1.001)" text-anchor="end">0</text><text transform="translate(47.50,334.53) scale(1,1.001)" text-anchor="end">0.2</text><text transform="translate(47.50,271.37) scale(1,1.001)" text-anchor="end">0.4</text><text transform="translate(47.50,208.20) scale(1,1.001)" text-anchor="end">0.6</text><text transform="translate(47.50,145.03) scale(1,1.001)" text-anchor="end">0.8</text><text transform="translate(47.50,81.87) scale(1,1.001)" text-anchor="end">1</text><text transform="translate(47.50,18.70) scale(1,1.001)" text-anchor="end">1.2</text></g>
<g font-size="16"><text transform="translate(292.60,435.00) scale(1,0.965)" text-anchor="middle">angle(o)</text></g>
<text transform="translate(17.8,204) rotate(-90)" font-size="16.15" text-anchor="middle">Normalized antenna gain</text>
<rect x="370.9" y="27.15" width="148" height="57.75" fill="#fff" stroke="#4a4a4a" stroke-width="1.27"/>
<g stroke-width="1.17">
<path d="M375.2 38.2H408.4" stroke="#0072BD"/>
<path d="M375.2 56.35H408.4" stroke="#D95319"/>
<path d="M375.2 74.45H408.4" stroke="#EDB120"/>
</g>
<g font-size="13.3">
<text transform="translate(411.60,43.50) scale(1,1.075)">The first band</text>
<text transform="translate(411.60,62.00) scale(1,1.075)">The second band</text>
<text transform="translate(411.60,80.10) scale(1,1.075)">The third band</text>
</g>
</svg>
</body></html>
